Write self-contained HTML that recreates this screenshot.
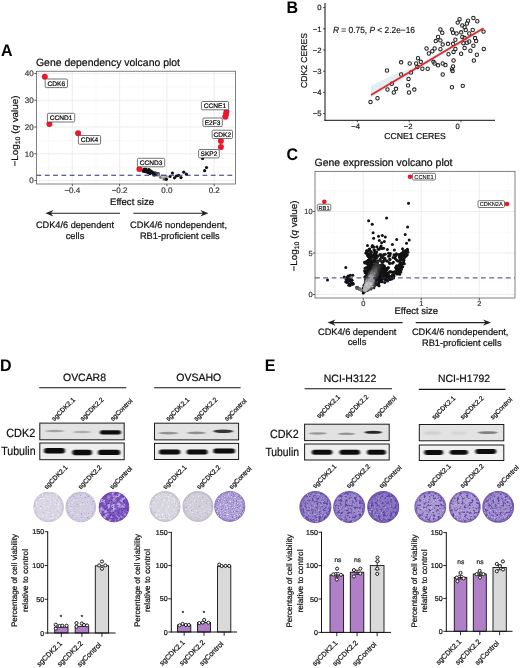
<!DOCTYPE html>
<html lang="en"><head><meta charset="utf-8"><title>Figure</title><style>html,body{margin:0;padding:0;background:#fff}body{width:520px;height:668px;overflow:hidden;font-family:"Liberation Sans",Arial,sans-serif}svg{display:block}</style></head><body>
<svg width="520" height="668" viewBox="0 0 520 668" font-family="Liberation Sans, Arial, Helvetica, sans-serif" text-rendering="geometricPrecision"><defs><filter id="b1" x="-20%" y="-100%" width="140%" height="300%"><feGaussianBlur stdDeviation="0.9 0.7"/></filter><filter id="b2" x="-20%" y="-100%" width="140%" height="300%"><feGaussianBlur stdDeviation="1.3 0.9"/></filter><clipPath id="c1"><rect x="39.8" y="423.1" width="84.4" height="16.7"/></clipPath><clipPath id="c2"><rect x="39.8" y="443" width="84.4" height="16.7"/></clipPath><radialGradient id="g3"><stop offset="0" stop-color="#d9d5e3"/><stop offset="0.8" stop-color="#d9d5e3"/><stop offset="1" stop-color="#c6c0d4"/></radialGradient><filter id="f4" x="0" y="0" width="100%" height="100%" color-interpolation-filters="sRGB"><feTurbulence type="fractalNoise" baseFrequency="0.5" numOctaves="2" seed="3"/><feColorMatrix type="matrix" values="0 0 0 0 0.96 0 0 0 0 0.96 0 0 0 0 0.98 3.2 0 0 0 -1.7"/><feComposite in2="SourceGraphic" operator="in"/></filter><filter id="f5" x="0" y="0" width="100%" height="100%" color-interpolation-filters="sRGB"><feTurbulence type="fractalNoise" baseFrequency="0.8" numOctaves="2" seed="14"/><feColorMatrix type="matrix" values="0 0 0 0 0.65 0 0 0 0 0.57 0 0 0 0 0.8 4 0 0 0 -2.7"/><feComposite in2="SourceGraphic" operator="in"/></filter><radialGradient id="g6"><stop offset="0" stop-color="#d3cde0"/><stop offset="0.8" stop-color="#d3cde0"/><stop offset="1" stop-color="#c2bbd2"/></radialGradient><filter id="f7" x="0" y="0" width="100%" height="100%" color-interpolation-filters="sRGB"><feTurbulence type="fractalNoise" baseFrequency="0.5" numOctaves="2" seed="5"/><feColorMatrix type="matrix" values="0 0 0 0 0.94 0 0 0 0 0.93 0 0 0 0 0.96 3.2 0 0 0 -1.8"/><feComposite in2="SourceGraphic" operator="in"/></filter><filter id="f8" x="0" y="0" width="100%" height="100%" color-interpolation-filters="sRGB"><feTurbulence type="fractalNoise" baseFrequency="0.8" numOctaves="2" seed="16"/><feColorMatrix type="matrix" values="0 0 0 0 0.59 0 0 0 0 0.49 0 0 0 0 0.78 4 0 0 0 -2.5"/><feComposite in2="SourceGraphic" operator="in"/></filter><radialGradient id="g9"><stop offset="0" stop-color="#7a52be"/><stop offset="0.8" stop-color="#7a52be"/><stop offset="1" stop-color="#6a42ae"/></radialGradient><filter id="f10" x="0" y="0" width="100%" height="100%" color-interpolation-filters="sRGB"><feTurbulence type="fractalNoise" baseFrequency="0.24" numOctaves="2" seed="9"/><feColorMatrix type="matrix" values="0 0 0 0 0.73 0 0 0 0 0.66 0 0 0 0 0.87 5 0 0 0 -2.25"/><feComposite in2="SourceGraphic" operator="in"/></filter><filter id="f11" x="0" y="0" width="100%" height="100%" color-interpolation-filters="sRGB"><feTurbulence type="fractalNoise" baseFrequency="0.6" numOctaves="2" seed="20"/><feColorMatrix type="matrix" values="0 0 0 0 0.35 0 0 0 0 0.2 0 0 0 0 0.65 4 0 0 0 -2.2"/><feComposite in2="SourceGraphic" operator="in"/></filter><clipPath id="c12"><rect x="154.5" y="423.2" width="84.1" height="16.7"/></clipPath><clipPath id="c13"><rect x="154.5" y="443.4" width="84.1" height="16.1"/></clipPath><radialGradient id="g14"><stop offset="0" stop-color="#d7d5de"/><stop offset="0.8" stop-color="#d7d5de"/><stop offset="1" stop-color="#bfbcc9"/></radialGradient><filter id="f15" x="0" y="0" width="100%" height="100%" color-interpolation-filters="sRGB"><feTurbulence type="fractalNoise" baseFrequency="0.5" numOctaves="2" seed="13"/><feColorMatrix type="matrix" values="0 0 0 0 0.96 0 0 0 0 0.95 0 0 0 0 0.97 3.2 0 0 0 -1.7"/><feComposite in2="SourceGraphic" operator="in"/></filter><filter id="f16" x="0" y="0" width="100%" height="100%" color-interpolation-filters="sRGB"><feTurbulence type="fractalNoise" baseFrequency="0.8" numOctaves="2" seed="24"/><feColorMatrix type="matrix" values="0 0 0 0 0.65 0 0 0 0 0.59 0 0 0 0 0.78 4 0 0 0 -2.75"/><feComposite in2="SourceGraphic" operator="in"/></filter><radialGradient id="g17"><stop offset="0" stop-color="#d1ceda"/><stop offset="0.8" stop-color="#d1ceda"/><stop offset="1" stop-color="#bbb7c7"/></radialGradient><filter id="f18" x="0" y="0" width="100%" height="100%" color-interpolation-filters="sRGB"><feTurbulence type="fractalNoise" baseFrequency="0.5" numOctaves="2" seed="15"/><feColorMatrix type="matrix" values="0 0 0 0 0.95 0 0 0 0 0.94 0 0 0 0 0.97 3.2 0 0 0 -1.8"/><feComposite in2="SourceGraphic" operator="in"/></filter><filter id="f19" x="0" y="0" width="100%" height="100%" color-interpolation-filters="sRGB"><feTurbulence type="fractalNoise" baseFrequency="0.8" numOctaves="2" seed="26"/><feColorMatrix type="matrix" values="0 0 0 0 0.61 0 0 0 0 0.53 0 0 0 0 0.78 4 0 0 0 -2.6"/><feComposite in2="SourceGraphic" operator="in"/></filter><radialGradient id="g20"><stop offset="0" stop-color="#ad9fd3"/><stop offset="0.8" stop-color="#ad9fd3"/><stop offset="1" stop-color="#856cbf"/></radialGradient><filter id="f21" x="0" y="0" width="100%" height="100%" color-interpolation-filters="sRGB"><feTurbulence type="fractalNoise" baseFrequency="0.7" numOctaves="2" seed="19"/><feColorMatrix type="matrix" values="0 0 0 0 0.87 0 0 0 0 0.85 0 0 0 0 0.93 4.5 0 0 0 -2.3"/><feComposite in2="SourceGraphic" operator="in"/></filter><filter id="f22" x="0" y="0" width="100%" height="100%" color-interpolation-filters="sRGB"><feTurbulence type="fractalNoise" baseFrequency="0.8" numOctaves="2" seed="30"/><feColorMatrix type="matrix" values="0 0 0 0 0.44 0 0 0 0 0.32 0 0 0 0 0.71 4 0 0 0 -2.35"/><feComposite in2="SourceGraphic" operator="in"/></filter><clipPath id="c23"><rect x="304.6" y="424.2" width="84.6" height="16.4"/></clipPath><clipPath id="c24"><rect x="304.6" y="444" width="84.6" height="16"/></clipPath><radialGradient id="g25"><stop offset="0" stop-color="#9282c6"/><stop offset="0.8" stop-color="#9282c6"/><stop offset="1" stop-color="#6e54b0"/></radialGradient><filter id="f26" x="0" y="0" width="100%" height="100%" color-interpolation-filters="sRGB"><feTurbulence type="fractalNoise" baseFrequency="0.7" numOctaves="2" seed="23"/><feColorMatrix type="matrix" values="0 0 0 0 0.75 0 0 0 0 0.71 0 0 0 0 0.87 4 0 0 0 -2.3"/><feComposite in2="SourceGraphic" operator="in"/></filter><filter id="f27" x="0" y="0" width="100%" height="100%" color-interpolation-filters="sRGB"><feTurbulence type="fractalNoise" baseFrequency="0.42" numOctaves="2" seed="34"/><feColorMatrix type="matrix" values="0 0 0 0 0.38 0 0 0 0 0.27 0 0 0 0 0.65 5 0 0 0 -2.5"/><feComposite in2="SourceGraphic" operator="in"/></filter><radialGradient id="g28"><stop offset="0" stop-color="#9686c8"/><stop offset="0.8" stop-color="#9686c8"/><stop offset="1" stop-color="#7258b2"/></radialGradient><filter id="f29" x="0" y="0" width="100%" height="100%" color-interpolation-filters="sRGB"><feTurbulence type="fractalNoise" baseFrequency="0.7" numOctaves="2" seed="25"/><feColorMatrix type="matrix" values="0 0 0 0 0.75 0 0 0 0 0.71 0 0 0 0 0.87 4 0 0 0 -2.3"/><feComposite in2="SourceGraphic" operator="in"/></filter><filter id="f30" x="0" y="0" width="100%" height="100%" color-interpolation-filters="sRGB"><feTurbulence type="fractalNoise" baseFrequency="0.42" numOctaves="2" seed="36"/><feColorMatrix type="matrix" values="0 0 0 0 0.38 0 0 0 0 0.27 0 0 0 0 0.65 5 0 0 0 -2.5"/><feComposite in2="SourceGraphic" operator="in"/></filter><radialGradient id="g31"><stop offset="0" stop-color="#8876c0"/><stop offset="0.8" stop-color="#8876c0"/><stop offset="1" stop-color="#664ca8"/></radialGradient><filter id="f32" x="0" y="0" width="100%" height="100%" color-interpolation-filters="sRGB"><feTurbulence type="fractalNoise" baseFrequency="0.7" numOctaves="2" seed="29"/><feColorMatrix type="matrix" values="0 0 0 0 0.75 0 0 0 0 0.71 0 0 0 0 0.87 4 0 0 0 -2.3"/><feComposite in2="SourceGraphic" operator="in"/></filter><filter id="f33" x="0" y="0" width="100%" height="100%" color-interpolation-filters="sRGB"><feTurbulence type="fractalNoise" baseFrequency="0.42" numOctaves="2" seed="40"/><feColorMatrix type="matrix" values="0 0 0 0 0.38 0 0 0 0 0.27 0 0 0 0 0.65 5 0 0 0 -2.5"/><feComposite in2="SourceGraphic" operator="in"/></filter><clipPath id="c34"><rect x="419.3" y="424.5" width="84.5" height="16.3"/></clipPath><clipPath id="c35"><rect x="419.3" y="445" width="84.5" height="15.5"/></clipPath><radialGradient id="g36"><stop offset="0" stop-color="#a898d0"/><stop offset="0.8" stop-color="#a898d0"/><stop offset="1" stop-color="#7456b0"/></radialGradient><filter id="f37" x="0" y="0" width="100%" height="100%" color-interpolation-filters="sRGB"><feTurbulence type="fractalNoise" baseFrequency="0.7" numOctaves="2" seed="33"/><feColorMatrix type="matrix" values="0 0 0 0 0.81 0 0 0 0 0.78 0 0 0 0 0.9 4 0 0 0 -2.3"/><feComposite in2="SourceGraphic" operator="in"/></filter><filter id="f38" x="0" y="0" width="100%" height="100%" color-interpolation-filters="sRGB"><feTurbulence type="fractalNoise" baseFrequency="0.42" numOctaves="2" seed="44"/><feColorMatrix type="matrix" values="0 0 0 0 0.39 0 0 0 0 0.27 0 0 0 0 0.66 5 0 0 0 -2.55"/><feComposite in2="SourceGraphic" operator="in"/></filter><radialGradient id="g39"><stop offset="0" stop-color="#aa9ad0"/><stop offset="0.8" stop-color="#aa9ad0"/><stop offset="1" stop-color="#7658b2"/></radialGradient><filter id="f40" x="0" y="0" width="100%" height="100%" color-interpolation-filters="sRGB"><feTurbulence type="fractalNoise" baseFrequency="0.7" numOctaves="2" seed="35"/><feColorMatrix type="matrix" values="0 0 0 0 0.81 0 0 0 0 0.78 0 0 0 0 0.9 4 0 0 0 -2.3"/><feComposite in2="SourceGraphic" operator="in"/></filter><filter id="f41" x="0" y="0" width="100%" height="100%" color-interpolation-filters="sRGB"><feTurbulence type="fractalNoise" baseFrequency="0.42" numOctaves="2" seed="46"/><feColorMatrix type="matrix" values="0 0 0 0 0.39 0 0 0 0 0.27 0 0 0 0 0.66 5 0 0 0 -2.55"/><feComposite in2="SourceGraphic" operator="in"/></filter><radialGradient id="g42"><stop offset="0" stop-color="#9c8aca"/><stop offset="0.8" stop-color="#9c8aca"/><stop offset="1" stop-color="#6a4eaa"/></radialGradient><filter id="f43" x="0" y="0" width="100%" height="100%" color-interpolation-filters="sRGB"><feTurbulence type="fractalNoise" baseFrequency="0.7" numOctaves="2" seed="39"/><feColorMatrix type="matrix" values="0 0 0 0 0.81 0 0 0 0 0.78 0 0 0 0 0.9 4 0 0 0 -2.3"/><feComposite in2="SourceGraphic" operator="in"/></filter><filter id="f44" x="0" y="0" width="100%" height="100%" color-interpolation-filters="sRGB"><feTurbulence type="fractalNoise" baseFrequency="0.42" numOctaves="2" seed="50"/><feColorMatrix type="matrix" values="0 0 0 0 0.39 0 0 0 0 0.27 0 0 0 0 0.66 5 0 0 0 -2.55"/><feComposite in2="SourceGraphic" operator="in"/></filter></defs><rect width="520" height="668" fill="#fff"/><text font-size="16" font-weight="bold" transform="translate(0.9 55.8) scale(1 1.05)">A</text>
<text x="36" y="66.4" font-size="10.5" fill="#111" textLength="144" lengthAdjust="spacingAndGlyphs" stroke="#111" stroke-width="0.22">Gene dependency volcano plot</text>
<rect x="36.5" y="71.2" width="199" height="112.8" fill="#fff"/>
<line x1="48.65" y1="71.2" x2="48.65" y2="184" stroke="#f3f3f3" stroke-width="0.5"/>
<line x1="95.95" y1="71.2" x2="95.95" y2="184" stroke="#f3f3f3" stroke-width="0.5"/>
<line x1="143.25" y1="71.2" x2="143.25" y2="184" stroke="#f3f3f3" stroke-width="0.5"/>
<line x1="190.55" y1="71.2" x2="190.55" y2="184" stroke="#f3f3f3" stroke-width="0.5"/>
<line x1="36.5" y1="167.12" x2="235.5" y2="167.12" stroke="#f3f3f3" stroke-width="0.5"/>
<line x1="36.5" y1="140.38" x2="235.5" y2="140.38" stroke="#f3f3f3" stroke-width="0.5"/>
<line x1="36.5" y1="113.62" x2="235.5" y2="113.62" stroke="#f3f3f3" stroke-width="0.5"/>
<line x1="36.5" y1="86.88" x2="235.5" y2="86.88" stroke="#f3f3f3" stroke-width="0.5"/>
<line x1="72.3" y1="71.2" x2="72.3" y2="184" stroke="#ebebeb" stroke-width="0.9"/>
<line x1="119.6" y1="71.2" x2="119.6" y2="184" stroke="#ebebeb" stroke-width="0.9"/>
<line x1="166.9" y1="71.2" x2="166.9" y2="184" stroke="#ebebeb" stroke-width="0.9"/>
<line x1="214.2" y1="71.2" x2="214.2" y2="184" stroke="#ebebeb" stroke-width="0.9"/>
<line x1="36.5" y1="180.5" x2="235.5" y2="180.5" stroke="#ebebeb" stroke-width="0.9"/>
<line x1="36.5" y1="153.75" x2="235.5" y2="153.75" stroke="#ebebeb" stroke-width="0.9"/>
<line x1="36.5" y1="127" x2="235.5" y2="127" stroke="#ebebeb" stroke-width="0.9"/>
<line x1="36.5" y1="100.25" x2="235.5" y2="100.25" stroke="#ebebeb" stroke-width="0.9"/>
<line x1="36.5" y1="73.5" x2="235.5" y2="73.5" stroke="#ebebeb" stroke-width="0.9"/>
<circle cx="153.82" cy="174.93" r="1.6" fill="#2d2d2d"/>
<circle cx="155.14" cy="172.9" r="1.6" fill="#3e3e3e"/>
<circle cx="158.38" cy="173.64" r="1.6" fill="#565656"/>
<circle cx="146.28" cy="171.04" r="1.6" fill="#111111"/>
<circle cx="145.6" cy="171.54" r="1.6" fill="#111111"/>
<circle cx="158.49" cy="174.06" r="1.6" fill="#4b4b4b"/>
<circle cx="154.33" cy="173.09" r="1.6" fill="#3b3b3b"/>
<circle cx="144.09" cy="169.66" r="1.6" fill="#111111"/>
<circle cx="162.5" cy="177.32" r="1.6" fill="#9d9d9d"/>
<circle cx="158.3" cy="174.54" r="1.6" fill="#878787"/>
<circle cx="166.72" cy="178.87" r="1.6" fill="#8d8d8d"/>
<circle cx="148.16" cy="170.11" r="1.6" fill="#111111"/>
<circle cx="160.5" cy="177.37" r="1.6" fill="#7e7e7e"/>
<circle cx="165.89" cy="176.14" r="1.6" fill="#838383"/>
<circle cx="163.91" cy="179.06" r="1.6" fill="#959595"/>
<circle cx="145.45" cy="171.18" r="1.6" fill="#111111"/>
<circle cx="148.58" cy="171.35" r="1.6" fill="#111111"/>
<circle cx="165.81" cy="176.59" r="1.6" fill="#878787"/>
<circle cx="144.72" cy="171.48" r="1.6" fill="#111111"/>
<circle cx="147.64" cy="170.95" r="1.6" fill="#111111"/>
<circle cx="148.35" cy="169.99" r="1.6" fill="#111111"/>
<circle cx="157.06" cy="174.87" r="1.6" fill="#545454"/>
<circle cx="150.7" cy="172.95" r="1.6" fill="#111111"/>
<circle cx="151.27" cy="171.23" r="1.6" fill="#111111"/>
<circle cx="153.22" cy="173.47" r="1.6" fill="#1a1a1a"/>
<circle cx="165.07" cy="177.29" r="1.6" fill="#b9b9b9"/>
<circle cx="150.41" cy="170.98" r="1.6" fill="#111111"/>
<circle cx="145.73" cy="169.5" r="1.6" fill="#111111"/>
<circle cx="156.72" cy="174.61" r="1.6" fill="#6e6e6e"/>
<circle cx="154.56" cy="175.01" r="1.6" fill="#2f2f2f"/>
<circle cx="147.95" cy="172.01" r="1.6" fill="#111111"/>
<circle cx="148.37" cy="172.56" r="1.6" fill="#111111"/>
<circle cx="163.93" cy="179.22" r="1.6" fill="#c3c3c3"/>
<circle cx="156.89" cy="173.44" r="1.6" fill="#434343"/>
<circle cx="164.53" cy="178.57" r="1.6" fill="#888888"/>
<circle cx="162.27" cy="175.98" r="1.6" fill="#7a7a7a"/>
<circle cx="158.67" cy="174.87" r="1.6" fill="#7e7e7e"/>
<circle cx="162.95" cy="176.18" r="1.6" fill="#c7c7c7"/>
<circle cx="146.93" cy="170.57" r="1.6" fill="#111111"/>
<circle cx="152.47" cy="172.33" r="1.6" fill="#292929"/>
<circle cx="155.49" cy="174.05" r="1.6" fill="#606060"/>
<circle cx="165.94" cy="178.68" r="1.6" fill="#a7a7a7"/>
<circle cx="145.54" cy="169.17" r="1.6" fill="#111111"/>
<circle cx="164.46" cy="179" r="1.6" fill="#727272"/>
<circle cx="202.6" cy="158.5" r="1.6" fill="#111"/>
<circle cx="206.5" cy="167.5" r="1.6" fill="#111"/>
<circle cx="204.6" cy="170.7" r="1.6" fill="#111"/>
<circle cx="166.3" cy="179.3" r="1.6" fill="#111"/>
<circle cx="172.4" cy="173" r="1.6" fill="#111"/>
<circle cx="183.8" cy="172.2" r="1.6" fill="#111"/>
<circle cx="186.5" cy="174.2" r="1.6" fill="#111"/>
<circle cx="181" cy="177.6" r="1.6" fill="#111"/>
<circle cx="176.4" cy="176" r="1.6" fill="#111"/>
<circle cx="170" cy="176.5" r="1.6" fill="#111"/>
<circle cx="174.5" cy="177.8" r="1.6" fill="#111"/>
<circle cx="178.5" cy="175.3" r="1.6" fill="#111"/>
<circle cx="144" cy="169.3" r="1.6" fill="#111"/>
<circle cx="146.5" cy="170.4" r="1.6" fill="#111"/>
<circle cx="149" cy="169.6" r="1.6" fill="#111"/>
<circle cx="151" cy="171.3" r="1.6" fill="#111"/>
<circle cx="147.5" cy="172.3" r="1.6" fill="#111"/>
<circle cx="153" cy="172.8" r="1.6" fill="#111"/>
<circle cx="150" cy="173.6" r="1.6" fill="#111"/>
<circle cx="155" cy="174.6" r="1.6" fill="#111"/>
<circle cx="143.2" cy="171.2" r="1.6" fill="#111"/>
<line x1="36.5" y1="175.15" x2="235.5" y2="175.15" stroke="#27307f" stroke-width="1.05" stroke-dasharray="4.8 3.5"/>
<circle cx="44.8" cy="76.7" r="3" fill="#e8192c"/>
<circle cx="49.4" cy="124.1" r="3" fill="#e8192c"/>
<circle cx="78.1" cy="133.3" r="3" fill="#e8192c"/>
<circle cx="226.5" cy="111.8" r="3" fill="#e8192c"/>
<circle cx="226" cy="114.2" r="3" fill="#e8192c"/>
<circle cx="225.3" cy="116.8" r="3" fill="#e8192c"/>
<circle cx="220.9" cy="140.9" r="3" fill="#e8192c"/>
<circle cx="220.9" cy="147.1" r="3" fill="#e8192c"/>
<circle cx="139.4" cy="169.1" r="3" fill="#e8192c"/>
<rect x="36.5" y="71.2" width="199" height="112.8" fill="none" stroke="#4a4a4a" stroke-width="0.7"/>
<rect x="45.2" y="79" width="22.3" height="8.6" fill="#fff" stroke="#3a3a3a" stroke-width="0.7" rx="1.2"/>
<text x="56.35" y="85.68" font-size="6.6" text-anchor="middle" stroke="#000" stroke-width="0.2">CDK6</text>
<rect x="47.4" y="113.3" width="27.3" height="8.7" fill="#fff" stroke="#3a3a3a" stroke-width="0.7" rx="1.2"/>
<text x="61.05" y="120.03" font-size="6.6" text-anchor="middle" stroke="#000" stroke-width="0.2">CCND1</text>
<rect x="78.4" y="135.5" width="22.2" height="8.7" fill="#fff" stroke="#3a3a3a" stroke-width="0.7" rx="1.2"/>
<text x="89.5" y="142.23" font-size="6.6" text-anchor="middle" stroke="#000" stroke-width="0.2">CDK4</text>
<rect x="201.4" y="101.5" width="27.2" height="8.3" fill="#fff" stroke="#3a3a3a" stroke-width="0.7" rx="1.2"/>
<text x="215" y="108.03" font-size="6.6" text-anchor="middle" stroke="#000" stroke-width="0.2">CCNE1</text>
<rect x="202.9" y="118" width="19.4" height="8.4" fill="#fff" stroke="#3a3a3a" stroke-width="0.7" rx="1.2"/>
<text x="212.6" y="124.58" font-size="6.6" text-anchor="middle" stroke="#000" stroke-width="0.2">E2F3</text>
<rect x="212.2" y="130.2" width="20.3" height="8.3" fill="#fff" stroke="#3a3a3a" stroke-width="0.7" rx="1.2"/>
<text x="222.35" y="136.73" font-size="6.6" text-anchor="middle" stroke="#000" stroke-width="0.2">CDK2</text>
<rect x="198.6" y="149.5" width="20.7" height="8.4" fill="#fff" stroke="#3a3a3a" stroke-width="0.7" rx="1.2"/>
<text x="208.95" y="156.08" font-size="6.6" text-anchor="middle" stroke="#000" stroke-width="0.2">SKP2</text>
<rect x="137.4" y="158.3" width="27.3" height="8.5" fill="#fff" stroke="#3a3a3a" stroke-width="0.7" rx="1.2"/>
<text x="151.05" y="164.93" font-size="6.6" text-anchor="middle" stroke="#000" stroke-width="0.2">CCND3</text>
<line x1="34.3" y1="180.5" x2="36.5" y2="180.5" stroke="#333" stroke-width="0.8"/>
<text x="33.6" y="183.4" font-size="8" text-anchor="end" fill="#3a3a3a" stroke="#3a3a3a" stroke-width="0.22">0</text>
<line x1="34.3" y1="153.75" x2="36.5" y2="153.75" stroke="#333" stroke-width="0.8"/>
<text x="33.6" y="156.65" font-size="8" text-anchor="end" fill="#3a3a3a" stroke="#3a3a3a" stroke-width="0.22">10</text>
<line x1="34.3" y1="127" x2="36.5" y2="127" stroke="#333" stroke-width="0.8"/>
<text x="33.6" y="129.9" font-size="8" text-anchor="end" fill="#3a3a3a" stroke="#3a3a3a" stroke-width="0.22">20</text>
<line x1="34.3" y1="100.25" x2="36.5" y2="100.25" stroke="#333" stroke-width="0.8"/>
<text x="33.6" y="103.15" font-size="8" text-anchor="end" fill="#3a3a3a" stroke="#3a3a3a" stroke-width="0.22">30</text>
<line x1="34.3" y1="73.5" x2="36.5" y2="73.5" stroke="#333" stroke-width="0.8"/>
<text x="33.6" y="76.4" font-size="8" text-anchor="end" fill="#3a3a3a" stroke="#3a3a3a" stroke-width="0.22">40</text>
<line x1="72.3" y1="184" x2="72.3" y2="186.2" stroke="#333" stroke-width="0.8"/>
<text x="72.3" y="192.9" font-size="8" text-anchor="middle" fill="#3a3a3a" stroke="#3a3a3a" stroke-width="0.22">−0.4</text>
<line x1="119.6" y1="184" x2="119.6" y2="186.2" stroke="#333" stroke-width="0.8"/>
<text x="119.6" y="192.9" font-size="8" text-anchor="middle" fill="#3a3a3a" stroke="#3a3a3a" stroke-width="0.22">−0.2</text>
<line x1="166.9" y1="184" x2="166.9" y2="186.2" stroke="#333" stroke-width="0.8"/>
<text x="166.9" y="192.9" font-size="8" text-anchor="middle" fill="#3a3a3a" stroke="#3a3a3a" stroke-width="0.22">0.0</text>
<line x1="214.2" y1="184" x2="214.2" y2="186.2" stroke="#333" stroke-width="0.8"/>
<text x="214.2" y="192.9" font-size="8" text-anchor="middle" fill="#3a3a3a" stroke="#3a3a3a" stroke-width="0.22">0.2</text>
<text x="132" y="205.2" font-size="9.5" text-anchor="middle" fill="#111" textLength="44" lengthAdjust="spacingAndGlyphs" stroke="#111" stroke-width="0.22">Effect size</text>
<text x="18" y="131" font-size="9.4" text-anchor="middle" fill="#111" stroke="#111" stroke-width="0.2" transform="rotate(-90 18 131)" textLength="71" lengthAdjust="spacingAndGlyphs">−Log<tspan font-size="6.58" dy="1.6">10</tspan><tspan dy="-1.6"> (</tspan><tspan font-style="italic">q</tspan> value)</text>
<line x1="120" y1="213.2" x2="48.4" y2="213.2" stroke="#222" stroke-width="1.1"/>
<path d="M45.4 213.2 L53.4 210 L50.9 213.2 L53.4 216.4 Z" fill="#222"/>
<line x1="133.4" y1="213.2" x2="205.4" y2="213.2" stroke="#222" stroke-width="1.1"/>
<path d="M208.4 213.2 L200.4 210 L202.9 213.2 L200.4 216.4 Z" fill="#222"/>
<text x="75" y="228.3" font-size="9.3" text-anchor="middle" fill="#111" textLength="78" lengthAdjust="spacingAndGlyphs" stroke="#111" stroke-width="0.22">CDK4/6 dependent</text>
<text x="75" y="238.6" font-size="9.3" text-anchor="middle" fill="#111" stroke="#111" stroke-width="0.22">cells</text>
<text x="178.5" y="228.3" font-size="9.3" text-anchor="middle" fill="#111" textLength="97" lengthAdjust="spacingAndGlyphs" stroke="#111" stroke-width="0.22">CDK4/6 nondependent,</text>
<text x="179.8" y="238.6" font-size="9.3" text-anchor="middle" fill="#111" textLength="79.7" lengthAdjust="spacingAndGlyphs" stroke="#111" stroke-width="0.22">RB1-proficient cells</text>
<text font-size="16" font-weight="bold" transform="translate(286.5 13.2) scale(1 1.05)">B</text>
<path d="M371 85.4 L391 76.2 L411 68.3 L440 52.5 L483.5 26.5 L483.5 30 L440 56 L411 74.5 L391 86 L371 97.5 Z" fill="#d8e5f0" opacity="0.7"/>
<circle cx="370.5" cy="102" r="1.7" fill="#e6e6e6" stroke="#222" stroke-width="1.05" fill-opacity="0.35"/>
<circle cx="377.5" cy="98.2" r="1.7" fill="#e6e6e6" stroke="#222" stroke-width="1.05" fill-opacity="0.35"/>
<circle cx="387.5" cy="89.5" r="1.7" fill="#e6e6e6" stroke="#222" stroke-width="1.05" fill-opacity="0.35"/>
<circle cx="387" cy="70.5" r="1.7" fill="#e6e6e6" stroke="#222" stroke-width="1.05" fill-opacity="0.35"/>
<circle cx="391.8" cy="83.8" r="1.7" fill="#e6e6e6" stroke="#222" stroke-width="1.05" fill-opacity="0.35"/>
<circle cx="393.8" cy="92.5" r="1.7" fill="#e6e6e6" stroke="#222" stroke-width="1.05" fill-opacity="0.35"/>
<circle cx="396" cy="88.8" r="1.7" fill="#e6e6e6" stroke="#222" stroke-width="1.05" fill-opacity="0.35"/>
<circle cx="409" cy="92.5" r="1.7" fill="#e6e6e6" stroke="#222" stroke-width="1.05" fill-opacity="0.35"/>
<circle cx="411" cy="72.5" r="1.7" fill="#e6e6e6" stroke="#222" stroke-width="1.05" fill-opacity="0.35"/>
<circle cx="459.54" cy="19.16" r="1.7" fill="#e6e6e6" stroke="#222" stroke-width="1.05" fill-opacity="0.35"/>
<circle cx="473.39" cy="18" r="1.7" fill="#e6e6e6" stroke="#222" stroke-width="1.05" fill-opacity="0.35"/>
<circle cx="477.31" cy="21.23" r="1.7" fill="#e6e6e6" stroke="#222" stroke-width="1.05" fill-opacity="0.35"/>
<circle cx="468.08" cy="20.77" r="1.7" fill="#e6e6e6" stroke="#222" stroke-width="1.05" fill-opacity="0.35"/>
<circle cx="457.7" cy="22.62" r="1.7" fill="#e6e6e6" stroke="#222" stroke-width="1.05" fill-opacity="0.35"/>
<circle cx="466.93" cy="23.54" r="1.7" fill="#e6e6e6" stroke="#222" stroke-width="1.05" fill-opacity="0.35"/>
<circle cx="462.31" cy="25.39" r="1.7" fill="#e6e6e6" stroke="#222" stroke-width="1.05" fill-opacity="0.35"/>
<circle cx="464.62" cy="27.23" r="1.7" fill="#e6e6e6" stroke="#222" stroke-width="1.05" fill-opacity="0.35"/>
<circle cx="465.77" cy="30" r="1.7" fill="#e6e6e6" stroke="#222" stroke-width="1.05" fill-opacity="0.35"/>
<circle cx="440.39" cy="29.54" r="1.7" fill="#e6e6e6" stroke="#222" stroke-width="1.05" fill-opacity="0.35"/>
<circle cx="451.93" cy="29.54" r="1.7" fill="#e6e6e6" stroke="#222" stroke-width="1.05" fill-opacity="0.35"/>
<circle cx="442.23" cy="32.77" r="1.7" fill="#e6e6e6" stroke="#222" stroke-width="1.05" fill-opacity="0.35"/>
<circle cx="453.08" cy="32.77" r="1.7" fill="#e6e6e6" stroke="#222" stroke-width="1.05" fill-opacity="0.35"/>
<circle cx="456.54" cy="33.46" r="1.7" fill="#e6e6e6" stroke="#222" stroke-width="1.05" fill-opacity="0.35"/>
<circle cx="461.16" cy="32.31" r="1.7" fill="#e6e6e6" stroke="#222" stroke-width="1.05" fill-opacity="0.35"/>
<circle cx="472.7" cy="30" r="1.7" fill="#e6e6e6" stroke="#222" stroke-width="1.05" fill-opacity="0.35"/>
<circle cx="469.24" cy="33.46" r="1.7" fill="#e6e6e6" stroke="#222" stroke-width="1.05" fill-opacity="0.35"/>
<circle cx="438.08" cy="36.93" r="1.7" fill="#e6e6e6" stroke="#222" stroke-width="1.05" fill-opacity="0.35"/>
<circle cx="435.77" cy="41.08" r="1.7" fill="#e6e6e6" stroke="#222" stroke-width="1.05" fill-opacity="0.35"/>
<circle cx="440.39" cy="40.39" r="1.7" fill="#e6e6e6" stroke="#222" stroke-width="1.05" fill-opacity="0.35"/>
<circle cx="462.31" cy="36.93" r="1.7" fill="#e6e6e6" stroke="#222" stroke-width="1.05" fill-opacity="0.35"/>
<circle cx="464.62" cy="38.08" r="1.7" fill="#e6e6e6" stroke="#222" stroke-width="1.05" fill-opacity="0.35"/>
<circle cx="455.39" cy="39.7" r="1.7" fill="#e6e6e6" stroke="#222" stroke-width="1.05" fill-opacity="0.35"/>
<circle cx="475.01" cy="38.08" r="1.7" fill="#e6e6e6" stroke="#222" stroke-width="1.05" fill-opacity="0.35"/>
<circle cx="476.16" cy="41.08" r="1.7" fill="#e6e6e6" stroke="#222" stroke-width="1.05" fill-opacity="0.35"/>
<circle cx="483.54" cy="31.62" r="1.7" fill="#e6e6e6" stroke="#222" stroke-width="1.05" fill-opacity="0.35"/>
<circle cx="442.7" cy="44.54" r="1.7" fill="#e6e6e6" stroke="#222" stroke-width="1.05" fill-opacity="0.35"/>
<circle cx="448" cy="43.85" r="1.7" fill="#e6e6e6" stroke="#222" stroke-width="1.05" fill-opacity="0.35"/>
<circle cx="453.08" cy="43.85" r="1.7" fill="#e6e6e6" stroke="#222" stroke-width="1.05" fill-opacity="0.35"/>
<circle cx="463.47" cy="43.16" r="1.7" fill="#e6e6e6" stroke="#222" stroke-width="1.05" fill-opacity="0.35"/>
<circle cx="466.93" cy="42.7" r="1.7" fill="#e6e6e6" stroke="#222" stroke-width="1.05" fill-opacity="0.35"/>
<circle cx="469.24" cy="41.54" r="1.7" fill="#e6e6e6" stroke="#222" stroke-width="1.05" fill-opacity="0.35"/>
<circle cx="426.54" cy="48.47" r="1.7" fill="#e6e6e6" stroke="#222" stroke-width="1.05" fill-opacity="0.35"/>
<circle cx="434.62" cy="48.47" r="1.7" fill="#e6e6e6" stroke="#222" stroke-width="1.05" fill-opacity="0.35"/>
<circle cx="440.39" cy="49.16" r="1.7" fill="#e6e6e6" stroke="#222" stroke-width="1.05" fill-opacity="0.35"/>
<circle cx="455.39" cy="48.93" r="1.7" fill="#e6e6e6" stroke="#222" stroke-width="1.05" fill-opacity="0.35"/>
<circle cx="464.62" cy="48" r="1.7" fill="#e6e6e6" stroke="#222" stroke-width="1.05" fill-opacity="0.35"/>
<circle cx="473.39" cy="45.7" r="1.7" fill="#e6e6e6" stroke="#222" stroke-width="1.05" fill-opacity="0.35"/>
<circle cx="483.78" cy="48.93" r="1.7" fill="#e6e6e6" stroke="#222" stroke-width="1.05" fill-opacity="0.35"/>
<circle cx="428.85" cy="53.54" r="1.7" fill="#e6e6e6" stroke="#222" stroke-width="1.05" fill-opacity="0.35"/>
<circle cx="432.31" cy="51.23" r="1.7" fill="#e6e6e6" stroke="#222" stroke-width="1.05" fill-opacity="0.35"/>
<circle cx="448.47" cy="54.23" r="1.7" fill="#e6e6e6" stroke="#222" stroke-width="1.05" fill-opacity="0.35"/>
<circle cx="453.54" cy="51.93" r="1.7" fill="#e6e6e6" stroke="#222" stroke-width="1.05" fill-opacity="0.35"/>
<circle cx="461.16" cy="53.77" r="1.7" fill="#e6e6e6" stroke="#222" stroke-width="1.05" fill-opacity="0.35"/>
<circle cx="470.39" cy="50.77" r="1.7" fill="#e6e6e6" stroke="#222" stroke-width="1.05" fill-opacity="0.35"/>
<circle cx="476.85" cy="54.7" r="1.7" fill="#e6e6e6" stroke="#222" stroke-width="1.05" fill-opacity="0.35"/>
<circle cx="418" cy="58.16" r="1.7" fill="#e6e6e6" stroke="#222" stroke-width="1.05" fill-opacity="0.35"/>
<circle cx="401.15" cy="62.31" r="1.7" fill="#e6e6e6" stroke="#222" stroke-width="1.05" fill-opacity="0.35"/>
<circle cx="409.69" cy="63.47" r="1.7" fill="#e6e6e6" stroke="#222" stroke-width="1.05" fill-opacity="0.35"/>
<circle cx="416.16" cy="63.47" r="1.7" fill="#e6e6e6" stroke="#222" stroke-width="1.05" fill-opacity="0.35"/>
<circle cx="420.77" cy="61.85" r="1.7" fill="#e6e6e6" stroke="#222" stroke-width="1.05" fill-opacity="0.35"/>
<circle cx="433.46" cy="61.85" r="1.7" fill="#e6e6e6" stroke="#222" stroke-width="1.05" fill-opacity="0.35"/>
<circle cx="434.62" cy="63.47" r="1.7" fill="#e6e6e6" stroke="#222" stroke-width="1.05" fill-opacity="0.35"/>
<circle cx="438.08" cy="65.31" r="1.7" fill="#e6e6e6" stroke="#222" stroke-width="1.05" fill-opacity="0.35"/>
<circle cx="442.7" cy="63.47" r="1.7" fill="#e6e6e6" stroke="#222" stroke-width="1.05" fill-opacity="0.35"/>
<circle cx="445.47" cy="65.08" r="1.7" fill="#e6e6e6" stroke="#222" stroke-width="1.05" fill-opacity="0.35"/>
<circle cx="453.54" cy="60.47" r="1.7" fill="#e6e6e6" stroke="#222" stroke-width="1.05" fill-opacity="0.35"/>
<circle cx="473.85" cy="60.47" r="1.7" fill="#e6e6e6" stroke="#222" stroke-width="1.05" fill-opacity="0.35"/>
<circle cx="417.31" cy="66.93" r="1.7" fill="#e6e6e6" stroke="#222" stroke-width="1.05" fill-opacity="0.35"/>
<circle cx="422.39" cy="68.77" r="1.7" fill="#e6e6e6" stroke="#222" stroke-width="1.05" fill-opacity="0.35"/>
<circle cx="427.69" cy="68.77" r="1.7" fill="#e6e6e6" stroke="#222" stroke-width="1.05" fill-opacity="0.35"/>
<circle cx="453.08" cy="66.47" r="1.7" fill="#e6e6e6" stroke="#222" stroke-width="1.05" fill-opacity="0.35"/>
<circle cx="451.93" cy="69.24" r="1.7" fill="#e6e6e6" stroke="#222" stroke-width="1.05" fill-opacity="0.35"/>
<circle cx="452.62" cy="71.08" r="1.7" fill="#e6e6e6" stroke="#222" stroke-width="1.05" fill-opacity="0.35"/>
<circle cx="442.7" cy="74.54" r="1.7" fill="#e6e6e6" stroke="#222" stroke-width="1.05" fill-opacity="0.35"/>
<circle cx="408.54" cy="78.93" r="1.7" fill="#e6e6e6" stroke="#222" stroke-width="1.05" fill-opacity="0.35"/>
<circle cx="408.08" cy="85.39" r="1.7" fill="#e6e6e6" stroke="#222" stroke-width="1.05" fill-opacity="0.35"/>
<circle cx="414.31" cy="89.55" r="1.7" fill="#e6e6e6" stroke="#222" stroke-width="1.05" fill-opacity="0.35"/>
<circle cx="451.93" cy="87.24" r="1.7" fill="#e6e6e6" stroke="#222" stroke-width="1.05" fill-opacity="0.35"/>
<circle cx="462.77" cy="85.85" r="1.7" fill="#e6e6e6" stroke="#222" stroke-width="1.05" fill-opacity="0.35"/>
<circle cx="401.15" cy="74.54" r="1.7" fill="#e6e6e6" stroke="#222" stroke-width="1.05" fill-opacity="0.35"/>
<line x1="371" y1="95" x2="483.5" y2="28.2" stroke="#dd2a2a" stroke-width="1.9"/>
<line x1="325" y1="3" x2="325" y2="120.8" stroke="#111" stroke-width="1"/>
<line x1="324.5" y1="120.3" x2="495" y2="120.3" stroke="#111" stroke-width="1"/>
<line x1="323" y1="7.6" x2="325" y2="7.6" stroke="#111" stroke-width="0.7"/>
<text x="321.6" y="10.35" font-size="7.7" text-anchor="end" fill="#222" stroke="#222" stroke-width="0.22">0</text>
<line x1="323" y1="28.8" x2="325" y2="28.8" stroke="#111" stroke-width="0.7"/>
<text x="321.6" y="31.55" font-size="7.7" text-anchor="end" fill="#222" stroke="#222" stroke-width="0.22">−1</text>
<line x1="323" y1="50" x2="325" y2="50" stroke="#111" stroke-width="0.7"/>
<text x="321.6" y="52.75" font-size="7.7" text-anchor="end" fill="#222" stroke="#222" stroke-width="0.22">−2</text>
<line x1="323" y1="71.2" x2="325" y2="71.2" stroke="#111" stroke-width="0.7"/>
<text x="321.6" y="73.95" font-size="7.7" text-anchor="end" fill="#222" stroke="#222" stroke-width="0.22">−3</text>
<line x1="323" y1="92.4" x2="325" y2="92.4" stroke="#111" stroke-width="0.7"/>
<text x="321.6" y="95.15" font-size="7.7" text-anchor="end" fill="#222" stroke="#222" stroke-width="0.22">−4</text>
<line x1="323" y1="113.6" x2="325" y2="113.6" stroke="#111" stroke-width="0.7"/>
<text x="321.6" y="116.35" font-size="7.7" text-anchor="end" fill="#222" stroke="#222" stroke-width="0.22">−5</text>
<line x1="357.4" y1="120.3" x2="357.4" y2="122.3" stroke="#111" stroke-width="0.7"/>
<text x="355.6" y="128.8" font-size="7.7" text-anchor="middle" fill="#222" stroke="#222" stroke-width="0.22">−4</text>
<line x1="409.2" y1="120.3" x2="409.2" y2="122.3" stroke="#111" stroke-width="0.7"/>
<text x="408.2" y="128.8" font-size="7.7" text-anchor="middle" fill="#222" stroke="#222" stroke-width="0.22">−2</text>
<line x1="461" y1="120.3" x2="461" y2="122.3" stroke="#111" stroke-width="0.7"/>
<text x="457.7" y="128.8" font-size="7.7" text-anchor="middle" fill="#222" stroke="#222" stroke-width="0.22">0</text>
<text x="415" y="139.1" font-size="8.6" text-anchor="middle" fill="#111" textLength="61.3" lengthAdjust="spacingAndGlyphs" stroke="#111" stroke-width="0.22">CCNE1 CERES</text>
<text x="306.8" y="60.5" font-size="8.6" text-anchor="middle" fill="#111" transform="rotate(-90 306.8 60.5)" textLength="55" lengthAdjust="spacingAndGlyphs" stroke="#111" stroke-width="0.22">CDK2 CERES</text>
<text x="333" y="32.6" font-size="8.9" fill="#111" stroke="#111" stroke-width="0.15" textLength="82" lengthAdjust="spacingAndGlyphs"><tspan font-style="italic">R</tspan> = 0.75, <tspan font-style="italic">P</tspan> &lt; 2.2e−16</text>
<text font-size="16" font-weight="bold" transform="translate(286.5 159.7) scale(1 1.05)">C</text>
<text x="314.5" y="166.2" font-size="10.5" fill="#111" textLength="138" lengthAdjust="spacingAndGlyphs" stroke="#111" stroke-width="0.22">Gene expression volcano plot</text>
<rect x="315" y="171.3" width="200" height="126.7" fill="#fff"/>
<line x1="334.25" y1="171.3" x2="334.25" y2="298" stroke="#f3f3f3" stroke-width="0.5"/>
<line x1="392.25" y1="171.3" x2="392.25" y2="298" stroke="#f3f3f3" stroke-width="0.5"/>
<line x1="450.25" y1="171.3" x2="450.25" y2="298" stroke="#f3f3f3" stroke-width="0.5"/>
<line x1="508.25" y1="171.3" x2="508.25" y2="298" stroke="#f3f3f3" stroke-width="0.5"/>
<line x1="315" y1="273.75" x2="515" y2="273.75" stroke="#f3f3f3" stroke-width="0.5"/>
<line x1="315" y1="232.25" x2="515" y2="232.25" stroke="#f3f3f3" stroke-width="0.5"/>
<line x1="315" y1="190.75" x2="515" y2="190.75" stroke="#f3f3f3" stroke-width="0.5"/>
<line x1="363.25" y1="171.3" x2="363.25" y2="298" stroke="#ebebeb" stroke-width="0.9"/>
<line x1="421.25" y1="171.3" x2="421.25" y2="298" stroke="#ebebeb" stroke-width="0.9"/>
<line x1="479.25" y1="171.3" x2="479.25" y2="298" stroke="#ebebeb" stroke-width="0.9"/>
<line x1="315" y1="294.5" x2="515" y2="294.5" stroke="#ebebeb" stroke-width="0.9"/>
<line x1="315" y1="253" x2="515" y2="253" stroke="#ebebeb" stroke-width="0.9"/>
<line x1="315" y1="211.5" x2="515" y2="211.5" stroke="#ebebeb" stroke-width="0.9"/>
<circle cx="372.74" cy="257.17" r="1.5" fill="#121212"/>
<circle cx="370.9" cy="254.98" r="1.5" fill="#121212"/>
<circle cx="379.88" cy="275.06" r="1.5" fill="#121212"/>
<circle cx="363.39" cy="291.13" r="1.5" fill="#121212"/>
<circle cx="388.58" cy="256.21" r="1.5" fill="#121212"/>
<circle cx="366.5" cy="250.78" r="1.5" fill="#121212"/>
<circle cx="393.41" cy="262.13" r="1.5" fill="#121212"/>
<circle cx="403.75" cy="253.55" r="1.5" fill="#121212"/>
<circle cx="384.39" cy="271.4" r="1.5" fill="#121212"/>
<circle cx="373.99" cy="249.82" r="1.5" fill="#121212"/>
<circle cx="388.81" cy="276.39" r="1.5" fill="#121212"/>
<circle cx="364.38" cy="291.59" r="1.5" fill="#121212"/>
<circle cx="400.96" cy="262.81" r="1.5" fill="#121212"/>
<circle cx="406.32" cy="251.84" r="1.5" fill="#121212"/>
<circle cx="389.65" cy="276.46" r="1.5" fill="#121212"/>
<circle cx="396.07" cy="272.74" r="1.5" fill="#121212"/>
<circle cx="382.47" cy="269.4" r="1.5" fill="#121212"/>
<circle cx="387.2" cy="277.3" r="1.5" fill="#121212"/>
<circle cx="390.69" cy="278.54" r="1.5" fill="#121212"/>
<circle cx="367.75" cy="264.14" r="1.5" fill="#121212"/>
<circle cx="387.29" cy="268.2" r="1.5" fill="#121212"/>
<circle cx="383.88" cy="271.02" r="1.5" fill="#121212"/>
<circle cx="383.77" cy="267.3" r="1.5" fill="#121212"/>
<circle cx="385.17" cy="275.62" r="1.5" fill="#121212"/>
<circle cx="377.83" cy="256.13" r="1.5" fill="#131313"/>
<circle cx="401.37" cy="259.51" r="1.5" fill="#121212"/>
<circle cx="407.28" cy="254.63" r="1.5" fill="#121212"/>
<circle cx="386.72" cy="273.26" r="1.5" fill="#121212"/>
<circle cx="386.11" cy="272.43" r="1.5" fill="#121212"/>
<circle cx="367.24" cy="263.16" r="1.5" fill="#121212"/>
<circle cx="384.87" cy="278.29" r="1.5" fill="#121212"/>
<circle cx="382.48" cy="272.27" r="1.5" fill="#121212"/>
<circle cx="376.61" cy="252.11" r="1.5" fill="#121212"/>
<circle cx="363.57" cy="290.53" r="1.5" fill="#121212"/>
<circle cx="369.17" cy="249.16" r="1.5" fill="#121212"/>
<circle cx="379.19" cy="277.76" r="1.5" fill="#121212"/>
<circle cx="368.09" cy="260.37" r="1.5" fill="#121212"/>
<circle cx="386.07" cy="269.57" r="1.5" fill="#121212"/>
<circle cx="364.53" cy="270.69" r="1.5" fill="#121212"/>
<circle cx="371.56" cy="263.48" r="1.5" fill="#121212"/>
<circle cx="379.8" cy="270.88" r="1.5" fill="#1a1a1a"/>
<circle cx="366.56" cy="275.09" r="1.5" fill="#131313"/>
<circle cx="352.13" cy="280.37" r="1.5" fill="#141414"/>
<circle cx="382.55" cy="274.25" r="1.5" fill="#121212"/>
<circle cx="365.13" cy="272.78" r="1.5" fill="#121212"/>
<circle cx="379.88" cy="274.33" r="1.5" fill="#121212"/>
<circle cx="367.75" cy="250.77" r="1.5" fill="#121212"/>
<circle cx="367.44" cy="274.11" r="1.5" fill="#141414"/>
<circle cx="392.42" cy="263.14" r="1.5" fill="#121212"/>
<circle cx="406.12" cy="256.04" r="1.5" fill="#121212"/>
<circle cx="380.79" cy="280.7" r="1.5" fill="#121212"/>
<circle cx="396.96" cy="271.27" r="1.5" fill="#121212"/>
<circle cx="364.32" cy="291.44" r="1.5" fill="#121212"/>
<circle cx="380.21" cy="270.62" r="1.5" fill="#161616"/>
<circle cx="346.14" cy="279.41" r="1.5" fill="#141414"/>
<circle cx="395.96" cy="255.42" r="1.5" fill="#121212"/>
<circle cx="368.18" cy="267.01" r="1.5" fill="#121212"/>
<circle cx="403.65" cy="260.2" r="1.5" fill="#121212"/>
<circle cx="383.05" cy="261.63" r="1.5" fill="#171717"/>
<circle cx="406.55" cy="250.15" r="1.5" fill="#121212"/>
<circle cx="368.79" cy="260.02" r="1.5" fill="#121212"/>
<circle cx="351.79" cy="283.89" r="1.5" fill="#141414"/>
<circle cx="384.76" cy="258.19" r="1.5" fill="#141414"/>
<circle cx="386.72" cy="275.85" r="1.5" fill="#121212"/>
<circle cx="371.46" cy="268.29" r="1.5" fill="#1d1d1d"/>
<circle cx="391.34" cy="272.06" r="1.5" fill="#121212"/>
<circle cx="374.27" cy="262" r="1.5" fill="#131313"/>
<circle cx="386.93" cy="275.93" r="1.5" fill="#121212"/>
<circle cx="394.82" cy="257.5" r="1.5" fill="#121212"/>
<circle cx="386.15" cy="269.41" r="1.5" fill="#121212"/>
<circle cx="380.83" cy="267.77" r="1.5" fill="#181818"/>
<circle cx="389.19" cy="272.24" r="1.5" fill="#121212"/>
<circle cx="379.79" cy="281.78" r="1.5" fill="#121212"/>
<circle cx="375.85" cy="261.05" r="1.5" fill="#171717"/>
<circle cx="348.61" cy="279.59" r="1.5" fill="#141414"/>
<circle cx="398.63" cy="265.97" r="1.5" fill="#121212"/>
<circle cx="384.72" cy="282.41" r="1.5" fill="#121212"/>
<circle cx="380.03" cy="259.34" r="1.5" fill="#1d1d1d"/>
<circle cx="364.74" cy="276.99" r="1.5" fill="#121212"/>
<circle cx="393.99" cy="275.95" r="1.5" fill="#121212"/>
<circle cx="405.12" cy="256.45" r="1.5" fill="#121212"/>
<circle cx="389.53" cy="278.11" r="1.5" fill="#121212"/>
<circle cx="401.03" cy="265.22" r="1.5" fill="#121212"/>
<circle cx="400.5" cy="256.97" r="1.5" fill="#121212"/>
<circle cx="375.83" cy="281.44" r="1.5" fill="#191919"/>
<circle cx="391.81" cy="278.56" r="1.5" fill="#121212"/>
<circle cx="392.68" cy="274.61" r="1.5" fill="#121212"/>
<circle cx="363.9" cy="285.62" r="1.5" fill="#121212"/>
<circle cx="370.84" cy="268.78" r="1.5" fill="#1a1a1a"/>
<circle cx="383.79" cy="254.62" r="1.5" fill="#171717"/>
<circle cx="374.86" cy="251.66" r="1.5" fill="#121212"/>
<circle cx="383.16" cy="268.17" r="1.5" fill="#121212"/>
<circle cx="394" cy="254.86" r="1.5" fill="#121212"/>
<circle cx="388.39" cy="267.54" r="1.5" fill="#121212"/>
<circle cx="349.67" cy="280.79" r="1.5" fill="#141414"/>
<circle cx="385.18" cy="272.56" r="1.5" fill="#121212"/>
<circle cx="395.21" cy="258.53" r="1.5" fill="#121212"/>
<circle cx="378.96" cy="281.73" r="1.5" fill="#121212"/>
<circle cx="377.96" cy="279.56" r="1.5" fill="#121212"/>
<circle cx="401.77" cy="254.01" r="1.5" fill="#121212"/>
<circle cx="399.47" cy="257.4" r="1.5" fill="#121212"/>
<circle cx="395.05" cy="271.42" r="1.5" fill="#121212"/>
<circle cx="384.34" cy="266.12" r="1.5" fill="#121212"/>
<circle cx="384.83" cy="267.76" r="1.5" fill="#121212"/>
<circle cx="381.18" cy="256.82" r="1.5" fill="#191919"/>
<circle cx="383.2" cy="272.73" r="1.5" fill="#121212"/>
<circle cx="380.13" cy="272.06" r="1.5" fill="#131313"/>
<circle cx="399.71" cy="274.29" r="1.5" fill="#121212"/>
<circle cx="364.78" cy="291.4" r="1.5" fill="#121212"/>
<circle cx="382.27" cy="265.26" r="1.5" fill="#161616"/>
<circle cx="402.53" cy="256.25" r="1.5" fill="#121212"/>
<circle cx="393.25" cy="272.06" r="1.5" fill="#121212"/>
<circle cx="376.37" cy="258.29" r="1.5" fill="#131313"/>
<circle cx="368" cy="253.44" r="1.5" fill="#121212"/>
<circle cx="376.37" cy="255.7" r="1.5" fill="#121212"/>
<circle cx="376.29" cy="277.24" r="1.5" fill="#252525"/>
<circle cx="400.19" cy="259.81" r="1.5" fill="#121212"/>
<circle cx="403.32" cy="262.75" r="1.5" fill="#121212"/>
<circle cx="385.54" cy="268.98" r="1.5" fill="#121212"/>
<circle cx="399.12" cy="272.4" r="1.5" fill="#121212"/>
<circle cx="363.59" cy="291.05" r="1.5" fill="#121212"/>
<circle cx="389.68" cy="277.48" r="1.5" fill="#121212"/>
<circle cx="401.49" cy="267.53" r="1.5" fill="#121212"/>
<circle cx="382.22" cy="281.69" r="1.5" fill="#121212"/>
<circle cx="403.77" cy="260.65" r="1.5" fill="#121212"/>
<circle cx="365.02" cy="263.09" r="1.5" fill="#121212"/>
<circle cx="398.26" cy="271.67" r="1.5" fill="#121212"/>
<circle cx="367.68" cy="255.53" r="1.5" fill="#121212"/>
<circle cx="401.6" cy="264.58" r="1.5" fill="#121212"/>
<circle cx="393.77" cy="274.74" r="1.5" fill="#121212"/>
<circle cx="370.03" cy="261.99" r="1.5" fill="#121212"/>
<circle cx="368.31" cy="271.56" r="1.5" fill="#121212"/>
<circle cx="397.22" cy="272.64" r="1.5" fill="#121212"/>
<circle cx="366.64" cy="263.19" r="1.5" fill="#121212"/>
<circle cx="382.15" cy="277.42" r="1.5" fill="#121212"/>
<circle cx="352.02" cy="284.16" r="1.5" fill="#141414"/>
<circle cx="402.16" cy="256.51" r="1.5" fill="#121212"/>
<circle cx="364.25" cy="291.23" r="1.5" fill="#121212"/>
<circle cx="350.02" cy="285.55" r="1.5" fill="#141414"/>
<circle cx="387.44" cy="261.3" r="1.5" fill="#121212"/>
<circle cx="371.35" cy="257.74" r="1.5" fill="#121212"/>
<circle cx="377.45" cy="276.31" r="1.5" fill="#161616"/>
<circle cx="401.21" cy="253.43" r="1.5" fill="#121212"/>
<circle cx="369.45" cy="259.36" r="1.5" fill="#121212"/>
<circle cx="399.54" cy="270.44" r="1.5" fill="#121212"/>
<circle cx="380.26" cy="280.48" r="1.5" fill="#121212"/>
<circle cx="353.05" cy="283.4" r="1.5" fill="#141414"/>
<circle cx="369.36" cy="271.34" r="1.5" fill="#1a1a1a"/>
<circle cx="399.93" cy="260.14" r="1.5" fill="#121212"/>
<circle cx="382.7" cy="277.53" r="1.5" fill="#121212"/>
<circle cx="373.28" cy="268.02" r="1.5" fill="#2e2e2e"/>
<circle cx="397.76" cy="261.01" r="1.5" fill="#121212"/>
<circle cx="372.98" cy="267.49" r="1.5" fill="#272727"/>
<circle cx="348.76" cy="285.17" r="1.5" fill="#141414"/>
<circle cx="373.54" cy="256.47" r="1.5" fill="#121212"/>
<circle cx="375.42" cy="261.32" r="1.5" fill="#161616"/>
<circle cx="369.41" cy="269.98" r="1.5" fill="#141414"/>
<circle cx="384.62" cy="259.17" r="1.5" fill="#141414"/>
<circle cx="404.3" cy="263.76" r="1.5" fill="#121212"/>
<circle cx="352.77" cy="275.2" r="1.5" fill="#141414"/>
<circle cx="374.2" cy="256.92" r="1.5" fill="#121212"/>
<circle cx="399.26" cy="271.29" r="1.5" fill="#121212"/>
<circle cx="374.62" cy="281.28" r="1.5" fill="#2c2c2c"/>
<circle cx="377.06" cy="279.8" r="1.5" fill="#131313"/>
<circle cx="369.1" cy="250.4" r="1.5" fill="#121212"/>
<circle cx="373.65" cy="260.31" r="1.5" fill="#121212"/>
<circle cx="379.2" cy="266.22" r="1.5" fill="#313131"/>
<circle cx="366.15" cy="268.01" r="1.5" fill="#121212"/>
<circle cx="364.52" cy="262.21" r="1.5" fill="#121212"/>
<circle cx="369.86" cy="269.97" r="1.5" fill="#161616"/>
<circle cx="380.68" cy="254.39" r="1.5" fill="#151515"/>
<circle cx="385.88" cy="277.88" r="1.5" fill="#121212"/>
<circle cx="349.21" cy="275.92" r="1.5" fill="#141414"/>
<circle cx="380.57" cy="260.69" r="1.5" fill="#242424"/>
<circle cx="385.91" cy="273.82" r="1.5" fill="#121212"/>
<circle cx="372.85" cy="268.45" r="1.5" fill="#2e2e2e"/>
<circle cx="400.78" cy="258.97" r="1.5" fill="#121212"/>
<circle cx="365.83" cy="271.33" r="1.5" fill="#121212"/>
<circle cx="377.36" cy="276.99" r="1.5" fill="#171717"/>
<circle cx="381.4" cy="267.66" r="1.5" fill="#171717"/>
<circle cx="393.54" cy="276.53" r="1.5" fill="#121212"/>
<circle cx="378.93" cy="273.55" r="1.5" fill="#161616"/>
<circle cx="371.43" cy="255.31" r="1.5" fill="#121212"/>
<circle cx="363.82" cy="288.42" r="1.5" fill="#121212"/>
<circle cx="384.36" cy="275.36" r="1.5" fill="#121212"/>
<circle cx="405.55" cy="250.62" r="1.5" fill="#121212"/>
<circle cx="370.95" cy="289.09" r="1.5" fill="#353535"/>
<circle cx="400.9" cy="271.97" r="1.5" fill="#121212"/>
<circle cx="397.71" cy="273.65" r="1.5" fill="#121212"/>
<circle cx="371.1" cy="262.51" r="1.5" fill="#121212"/>
<circle cx="403.95" cy="258.76" r="1.5" fill="#121212"/>
<circle cx="369.89" cy="270.04" r="1.5" fill="#171717"/>
<circle cx="377.32" cy="263.62" r="1.5" fill="#282828"/>
<circle cx="369.76" cy="256.3" r="1.5" fill="#121212"/>
<circle cx="363.84" cy="289.68" r="1.5" fill="#323232"/>
<circle cx="379.91" cy="268.02" r="1.5" fill="#242424"/>
<circle cx="352.31" cy="283.81" r="1.5" fill="#141414"/>
<circle cx="379.85" cy="271.05" r="1.5" fill="#181818"/>
<circle cx="368.69" cy="264.56" r="1.5" fill="#121212"/>
<circle cx="370.5" cy="270.54" r="1.5" fill="#232323"/>
<circle cx="371.69" cy="261.71" r="1.5" fill="#121212"/>
<circle cx="398.61" cy="269.53" r="1.5" fill="#121212"/>
<circle cx="390.09" cy="259.52" r="1.5" fill="#121212"/>
<circle cx="369.64" cy="249.05" r="1.5" fill="#121212"/>
<circle cx="389.47" cy="262.73" r="1.5" fill="#121212"/>
<circle cx="363.77" cy="291.4" r="1.5" fill="#121212"/>
<circle cx="377.03" cy="273.54" r="1.5" fill="#303030"/>
<circle cx="375.06" cy="257.39" r="1.5" fill="#121212"/>
<circle cx="364.24" cy="290.66" r="1.5" fill="#121212"/>
<circle cx="383.99" cy="275.87" r="1.5" fill="#121212"/>
<circle cx="381.63" cy="270.11" r="1.5" fill="#121212"/>
<circle cx="400.22" cy="254.51" r="1.5" fill="#121212"/>
<circle cx="400.16" cy="262.25" r="1.5" fill="#121212"/>
<circle cx="402.52" cy="248.78" r="1.5" fill="#121212"/>
<circle cx="400.29" cy="266.83" r="1.5" fill="#121212"/>
<circle cx="369.87" cy="253.68" r="1.5" fill="#121212"/>
<circle cx="375.88" cy="262.98" r="1.5" fill="#242424"/>
<circle cx="365.11" cy="284.09" r="1.5" fill="#373737"/>
<circle cx="386.08" cy="279.95" r="1.5" fill="#121212"/>
<circle cx="344.23" cy="276.99" r="1.5" fill="#141414"/>
<circle cx="386.25" cy="272.78" r="1.5" fill="#121212"/>
<circle cx="373.88" cy="253.63" r="1.5" fill="#121212"/>
<circle cx="390.54" cy="278.71" r="1.5" fill="#121212"/>
<circle cx="367.98" cy="262.36" r="1.5" fill="#121212"/>
<circle cx="378.43" cy="279.95" r="1.5" fill="#121212"/>
<circle cx="364.74" cy="285.22" r="1.5" fill="#313131"/>
<circle cx="380.41" cy="273.07" r="1.5" fill="#121212"/>
<circle cx="378.52" cy="275.83" r="1.5" fill="#131313"/>
<circle cx="377.6" cy="276.27" r="1.5" fill="#151515"/>
<circle cx="399.9" cy="268.42" r="1.5" fill="#121212"/>
<circle cx="347.18" cy="277.29" r="1.5" fill="#141414"/>
<circle cx="396.15" cy="268.83" r="1.5" fill="#121212"/>
<circle cx="345.74" cy="281.78" r="1.5" fill="#141414"/>
<circle cx="376.17" cy="253.93" r="1.5" fill="#121212"/>
<circle cx="363.46" cy="288.07" r="1.5" fill="#121212"/>
<circle cx="376.07" cy="284.23" r="1.5" fill="#1c1c1c"/>
<circle cx="349.38" cy="283.68" r="1.5" fill="#141414"/>
<circle cx="403.92" cy="258.49" r="1.5" fill="#121212"/>
<circle cx="402.73" cy="266.83" r="1.5" fill="#121212"/>
<circle cx="375.5" cy="253.75" r="1.5" fill="#121212"/>
<circle cx="363.79" cy="292.08" r="1.5" fill="#121212"/>
<circle cx="374.52" cy="259.95" r="1.5" fill="#121212"/>
<circle cx="399.56" cy="268.52" r="1.5" fill="#121212"/>
<circle cx="368.22" cy="266.39" r="1.5" fill="#121212"/>
<circle cx="369.46" cy="260.88" r="1.5" fill="#121212"/>
<circle cx="346.81" cy="282.53" r="1.5" fill="#141414"/>
<circle cx="406.71" cy="250.44" r="1.5" fill="#121212"/>
<circle cx="370.74" cy="268.28" r="1.5" fill="#151515"/>
<circle cx="378.01" cy="279.25" r="1.5" fill="#121212"/>
<circle cx="373.97" cy="287.69" r="1.5" fill="#323232"/>
<circle cx="365.51" cy="282.07" r="1.5" fill="#373737"/>
<circle cx="386.88" cy="269.94" r="1.5" fill="#121212"/>
<circle cx="384.96" cy="275.79" r="1.5" fill="#121212"/>
<circle cx="368.03" cy="275.03" r="1.5" fill="#282828"/>
<circle cx="380.2" cy="273.35" r="1.5" fill="#121212"/>
<circle cx="375.21" cy="265.89" r="1.5" fill="#363636"/>
<circle cx="375.39" cy="283.16" r="1.5" fill="#212121"/>
<circle cx="407.39" cy="249.34" r="1.5" fill="#121212"/>
<circle cx="365.65" cy="279.89" r="1.5" fill="#1f1f1f"/>
<circle cx="372.02" cy="269.2" r="1.5" fill="#272727"/>
<circle cx="374.6" cy="260.82" r="1.5" fill="#131313"/>
<circle cx="372.44" cy="245.44" r="1.5" fill="#121212"/>
<circle cx="366.96" cy="273.06" r="1.5" fill="#121212"/>
<circle cx="367.97" cy="274.36" r="1.5" fill="#1b1b1b"/>
<circle cx="347.78" cy="279.88" r="1.5" fill="#141414"/>
<circle cx="376.08" cy="277.84" r="1.5" fill="#1e1e1e"/>
<circle cx="397.12" cy="268.12" r="1.5" fill="#121212"/>
<circle cx="365.77" cy="279.43" r="1.5" fill="#1f1f1f"/>
<circle cx="382.04" cy="262.55" r="1.5" fill="#1b1b1b"/>
<circle cx="348.12" cy="275.94" r="1.5" fill="#141414"/>
<circle cx="379.56" cy="272.42" r="1.5" fill="#151515"/>
<circle cx="376.4" cy="264.94" r="1.5" fill="#363636"/>
<circle cx="403.51" cy="252.57" r="1.5" fill="#121212"/>
<circle cx="371.15" cy="264.4" r="1.5" fill="#121212"/>
<circle cx="377.83" cy="284.66" r="1.5" fill="#151515"/>
<circle cx="389.92" cy="276.57" r="1.5" fill="#121212"/>
<circle cx="370.61" cy="262.54" r="1.5" fill="#121212"/>
<circle cx="351.97" cy="282.96" r="1.5" fill="#141414"/>
<circle cx="380.19" cy="279.11" r="1.5" fill="#121212"/>
<circle cx="400.28" cy="265.49" r="1.5" fill="#121212"/>
<circle cx="389.83" cy="255.44" r="1.5" fill="#121212"/>
<circle cx="371.39" cy="267.54" r="1.5" fill="#171717"/>
<circle cx="378.25" cy="279.84" r="1.5" fill="#121212"/>
<circle cx="396.69" cy="265.64" r="1.5" fill="#121212"/>
<circle cx="396.39" cy="253.69" r="1.5" fill="#121212"/>
<circle cx="366.85" cy="268.07" r="1.5" fill="#121212"/>
<circle cx="370.17" cy="270.47" r="1.5" fill="#1e1e1e"/>
<circle cx="375.54" cy="257.69" r="1.5" fill="#121212"/>
<circle cx="374.32" cy="255.4" r="1.5" fill="#121212"/>
<circle cx="365.07" cy="268.27" r="1.5" fill="#121212"/>
<circle cx="364.03" cy="291.33" r="1.5" fill="#121212"/>
<circle cx="397.19" cy="271.27" r="1.5" fill="#121212"/>
<circle cx="389.92" cy="279.57" r="1.5" fill="#121212"/>
<circle cx="367.63" cy="268.97" r="1.5" fill="#121212"/>
<circle cx="379.05" cy="285.7" r="1.5" fill="#131313"/>
<circle cx="349.08" cy="278.76" r="1.5" fill="#141414"/>
<circle cx="374.96" cy="285.38" r="1.5" fill="#292929"/>
<circle cx="378.56" cy="285.01" r="1.5" fill="#131313"/>
<circle cx="396.96" cy="273.96" r="1.5" fill="#121212"/>
<circle cx="378.06" cy="279.3" r="1.5" fill="#121212"/>
<circle cx="348.45" cy="280.59" r="1.5" fill="#141414"/>
<circle cx="375.6" cy="263.38" r="1.5" fill="#242424"/>
<circle cx="396.6" cy="266.39" r="1.5" fill="#121212"/>
<circle cx="376.75" cy="279.29" r="1.5" fill="#151515"/>
<circle cx="389.75" cy="263.58" r="1.5" fill="#121212"/>
<circle cx="371.27" cy="257.01" r="1.5" fill="#121212"/>
<circle cx="380.55" cy="276.45" r="1.5" fill="#121212"/>
<circle cx="384.37" cy="266.69" r="1.5" fill="#121212"/>
<circle cx="370.91" cy="267.46" r="1.5" fill="#141414"/>
<circle cx="386.68" cy="279.75" r="1.5" fill="#121212"/>
<circle cx="374.87" cy="267.78" r="1.5" fill="#464646"/>
<circle cx="348.16" cy="278.75" r="1.5" fill="#141414"/>
<circle cx="367.4" cy="290.46" r="1.5" fill="#3a3a3a"/>
<circle cx="385.57" cy="269.93" r="1.5" fill="#121212"/>
<circle cx="378.79" cy="282.99" r="1.5" fill="#121212"/>
<circle cx="363.82" cy="290.21" r="1.5" fill="#424242"/>
<circle cx="382.98" cy="256.04" r="1.5" fill="#181818"/>
<circle cx="356.51" cy="287.24" r="1.5" fill="#464646"/>
<circle cx="370.82" cy="262.64" r="1.5" fill="#121212"/>
<circle cx="376.14" cy="267.42" r="1.5" fill="#444444"/>
<circle cx="377.8" cy="261.11" r="1.5" fill="#252525"/>
<circle cx="365.91" cy="276.31" r="1.5" fill="#121212"/>
<circle cx="397.24" cy="266.31" r="1.5" fill="#121212"/>
<circle cx="369.81" cy="265.08" r="1.5" fill="#121212"/>
<circle cx="351.05" cy="279.38" r="1.5" fill="#141414"/>
<circle cx="379.34" cy="271.12" r="1.5" fill="#1e1e1e"/>
<circle cx="377.99" cy="283.84" r="1.5" fill="#131313"/>
<circle cx="385.03" cy="271.24" r="1.5" fill="#121212"/>
<circle cx="364.13" cy="287.77" r="1.5" fill="#272727"/>
<circle cx="377.03" cy="275.32" r="1.5" fill="#272727"/>
<circle cx="351.46" cy="282.23" r="1.5" fill="#141414"/>
<circle cx="379.25" cy="249.27" r="1.5" fill="#121212"/>
<circle cx="366.81" cy="275.37" r="1.5" fill="#151515"/>
<circle cx="363.72" cy="291.7" r="1.5" fill="#121212"/>
<circle cx="371.2" cy="252.2" r="1.5" fill="#121212"/>
<circle cx="371.39" cy="271.79" r="1.5" fill="#424242"/>
<circle cx="381.57" cy="270.99" r="1.5" fill="#121212"/>
<circle cx="375.48" cy="253.64" r="1.5" fill="#121212"/>
<circle cx="375.87" cy="275.95" r="1.5" fill="#484848"/>
<circle cx="376.8" cy="274.77" r="1.5" fill="#353535"/>
<circle cx="376.6" cy="284.12" r="1.5" fill="#191919"/>
<circle cx="371.63" cy="268.95" r="1.5" fill="#222222"/>
<circle cx="385.34" cy="279.55" r="1.5" fill="#121212"/>
<circle cx="370.16" cy="273.29" r="1.5" fill="#3d3d3d"/>
<circle cx="375.51" cy="278.09" r="1.5" fill="#2d2d2d"/>
<circle cx="399.38" cy="256.09" r="1.5" fill="#121212"/>
<circle cx="348.46" cy="280.07" r="1.5" fill="#141414"/>
<circle cx="363.91" cy="288.23" r="1.5" fill="#121212"/>
<circle cx="385.41" cy="279.28" r="1.5" fill="#121212"/>
<circle cx="365.85" cy="252.91" r="1.5" fill="#121212"/>
<circle cx="374.99" cy="269.18" r="1.5" fill="#474747"/>
<circle cx="400.64" cy="264.33" r="1.5" fill="#121212"/>
<circle cx="366.29" cy="267.69" r="1.5" fill="#121212"/>
<circle cx="368.77" cy="264.58" r="1.5" fill="#121212"/>
<circle cx="403.12" cy="259.99" r="1.5" fill="#121212"/>
<circle cx="388.49" cy="253.17" r="1.5" fill="#121212"/>
<circle cx="385.74" cy="278.51" r="1.5" fill="#121212"/>
<circle cx="396.52" cy="260.06" r="1.5" fill="#121212"/>
<circle cx="367.81" cy="276.89" r="1.5" fill="#4e4e4e"/>
<circle cx="383.71" cy="272.23" r="1.5" fill="#121212"/>
<circle cx="377.14" cy="270.8" r="1.5" fill="#3b3b3b"/>
<circle cx="376.24" cy="276.23" r="1.5" fill="#333333"/>
<circle cx="387.37" cy="275.07" r="1.5" fill="#121212"/>
<circle cx="395.69" cy="272.74" r="1.5" fill="#121212"/>
<circle cx="385.59" cy="276.93" r="1.5" fill="#121212"/>
<circle cx="371.65" cy="270.17" r="1.5" fill="#2d2d2d"/>
<circle cx="407.36" cy="250.02" r="1.5" fill="#121212"/>
<circle cx="401.2" cy="265.22" r="1.5" fill="#121212"/>
<circle cx="384.02" cy="266.52" r="1.5" fill="#121212"/>
<circle cx="380.86" cy="281.23" r="1.5" fill="#121212"/>
<circle cx="371.47" cy="261.29" r="1.5" fill="#121212"/>
<circle cx="378.61" cy="272.32" r="1.5" fill="#232323"/>
<circle cx="369.88" cy="267.55" r="1.5" fill="#121212"/>
<circle cx="375.11" cy="277.35" r="1.5" fill="#4d4d4d"/>
<circle cx="384.2" cy="270.32" r="1.5" fill="#121212"/>
<circle cx="369.9" cy="271.16" r="1.5" fill="#202020"/>
<circle cx="352" cy="283.07" r="1.5" fill="#141414"/>
<circle cx="388.19" cy="274.19" r="1.5" fill="#121212"/>
<circle cx="369.28" cy="263.42" r="1.5" fill="#121212"/>
<circle cx="379.73" cy="265.65" r="1.5" fill="#2c2c2c"/>
<circle cx="369.8" cy="269.69" r="1.5" fill="#151515"/>
<circle cx="380.65" cy="274.81" r="1.5" fill="#121212"/>
<circle cx="368.95" cy="275.17" r="1.5" fill="#4f4f4f"/>
<circle cx="382.08" cy="248.44" r="1.5" fill="#121212"/>
<circle cx="364.44" cy="290.83" r="1.5" fill="#121212"/>
<circle cx="367.67" cy="273.21" r="1.5" fill="#131313"/>
<circle cx="377.01" cy="271.17" r="1.5" fill="#3d3d3d"/>
<circle cx="366.57" cy="279.89" r="1.5" fill="#484848"/>
<circle cx="393.59" cy="277.91" r="1.5" fill="#121212"/>
<circle cx="385.63" cy="274.01" r="1.5" fill="#121212"/>
<circle cx="381.72" cy="268.9" r="1.5" fill="#131313"/>
<circle cx="392.98" cy="275.59" r="1.5" fill="#121212"/>
<circle cx="391.56" cy="279.05" r="1.5" fill="#121212"/>
<circle cx="374" cy="267.04" r="1.5" fill="#373737"/>
<circle cx="375.24" cy="280.04" r="1.5" fill="#262626"/>
<circle cx="395.54" cy="272.56" r="1.5" fill="#121212"/>
<circle cx="395.66" cy="267.44" r="1.5" fill="#121212"/>
<circle cx="364.71" cy="291.06" r="1.5" fill="#121212"/>
<circle cx="384.4" cy="259.44" r="1.5" fill="#151515"/>
<circle cx="375.85" cy="277.48" r="1.5" fill="#2d2d2d"/>
<circle cx="377.61" cy="261.62" r="1.5" fill="#242424"/>
<circle cx="371.81" cy="260.5" r="1.5" fill="#121212"/>
<circle cx="390.16" cy="271.43" r="1.5" fill="#121212"/>
<circle cx="375.57" cy="266.23" r="1.5" fill="#414141"/>
<circle cx="367.06" cy="278.54" r="1.5" fill="#595959"/>
<circle cx="380.05" cy="267.57" r="1.5" fill="#242424"/>
<circle cx="366.37" cy="261.46" r="1.5" fill="#121212"/>
<circle cx="380.48" cy="266.42" r="1.5" fill="#212121"/>
<circle cx="402.27" cy="256.71" r="1.5" fill="#121212"/>
<circle cx="380.32" cy="268.76" r="1.5" fill="#1a1a1a"/>
<circle cx="366.37" cy="278.42" r="1.5" fill="#252525"/>
<circle cx="371.47" cy="288.08" r="1.5" fill="#444444"/>
<circle cx="363.9" cy="291.9" r="1.5" fill="#121212"/>
<circle cx="374.75" cy="266.24" r="1.5" fill="#353535"/>
<circle cx="374.59" cy="265.76" r="1.5" fill="#303030"/>
<circle cx="372.57" cy="270.32" r="1.5" fill="#545454"/>
<circle cx="370.62" cy="273.8" r="1.5" fill="#545454"/>
<circle cx="372.31" cy="265.67" r="1.5" fill="#161616"/>
<circle cx="372.54" cy="256.35" r="1.5" fill="#121212"/>
<circle cx="403.57" cy="251.46" r="1.5" fill="#121212"/>
<circle cx="371.88" cy="269.47" r="1.5" fill="#292929"/>
<circle cx="379.76" cy="254.76" r="1.5" fill="#151515"/>
<circle cx="399.38" cy="264.51" r="1.5" fill="#121212"/>
<circle cx="372.11" cy="246.78" r="1.5" fill="#121212"/>
<circle cx="368.48" cy="267.68" r="1.5" fill="#121212"/>
<circle cx="370.31" cy="269.53" r="1.5" fill="#191919"/>
<circle cx="404.1" cy="255.38" r="1.5" fill="#121212"/>
<circle cx="372.91" cy="266.73" r="1.5" fill="#1e1e1e"/>
<circle cx="369.37" cy="257.33" r="1.5" fill="#121212"/>
<circle cx="382.12" cy="279.69" r="1.5" fill="#121212"/>
<circle cx="376.75" cy="266.85" r="1.5" fill="#464646"/>
<circle cx="383.07" cy="278.24" r="1.5" fill="#121212"/>
<circle cx="398.79" cy="254.57" r="1.5" fill="#121212"/>
<circle cx="381.69" cy="272.71" r="1.5" fill="#121212"/>
<circle cx="401.31" cy="269.14" r="1.5" fill="#121212"/>
<circle cx="374.46" cy="274.36" r="1.5" fill="#5b5b5b"/>
<circle cx="366.3" cy="277.88" r="1.5" fill="#1e1e1e"/>
<circle cx="365.52" cy="282.42" r="1.5" fill="#393939"/>
<circle cx="397.16" cy="270.09" r="1.5" fill="#121212"/>
<circle cx="382.42" cy="257.74" r="1.5" fill="#1c1c1c"/>
<circle cx="387.59" cy="280.93" r="1.5" fill="#121212"/>
<circle cx="380.28" cy="247.56" r="1.5" fill="#121212"/>
<circle cx="375.62" cy="275.08" r="1.5" fill="#414141"/>
<circle cx="347.24" cy="282.37" r="1.5" fill="#141414"/>
<circle cx="368.16" cy="255" r="1.5" fill="#121212"/>
<circle cx="367.92" cy="271.58" r="1.5" fill="#121212"/>
<circle cx="370.17" cy="268.96" r="1.5" fill="#151515"/>
<circle cx="371.36" cy="254.92" r="1.5" fill="#121212"/>
<circle cx="363.69" cy="290.81" r="1.5" fill="#121212"/>
<circle cx="368.33" cy="256.53" r="1.5" fill="#121212"/>
<circle cx="378.6" cy="273.42" r="1.5" fill="#1a1a1a"/>
<circle cx="370.24" cy="268.74" r="1.5" fill="#141414"/>
<circle cx="369.37" cy="264.16" r="1.5" fill="#121212"/>
<circle cx="391.81" cy="277.37" r="1.5" fill="#121212"/>
<circle cx="374.55" cy="267.88" r="1.5" fill="#4a4a4a"/>
<circle cx="363.93" cy="291.59" r="1.5" fill="#121212"/>
<circle cx="382.23" cy="273.39" r="1.5" fill="#121212"/>
<circle cx="350.38" cy="275.2" r="1.5" fill="#141414"/>
<circle cx="377.3" cy="273.37" r="1.5" fill="#3a3a3a"/>
<circle cx="373.97" cy="247.12" r="1.5" fill="#121212"/>
<circle cx="374.17" cy="264.58" r="1.5" fill="#1c1c1c"/>
<circle cx="375.39" cy="277.06" r="1.5" fill="#494949"/>
<circle cx="379.15" cy="265.96" r="1.5" fill="#323232"/>
<circle cx="403.85" cy="254.74" r="1.5" fill="#121212"/>
<circle cx="376.67" cy="264.49" r="1.5" fill="#2c2c2c"/>
<circle cx="367.56" cy="255.36" r="1.5" fill="#121212"/>
<circle cx="385.6" cy="277.69" r="1.5" fill="#121212"/>
<circle cx="368.93" cy="273.55" r="1.5" fill="#2b2b2b"/>
<circle cx="369.13" cy="267.47" r="1.5" fill="#121212"/>
<circle cx="385.25" cy="269.12" r="1.5" fill="#121212"/>
<circle cx="356.98" cy="288.42" r="1.5" fill="#535353"/>
<circle cx="367.58" cy="271.49" r="1.5" fill="#121212"/>
<circle cx="387.82" cy="268.19" r="1.5" fill="#121212"/>
<circle cx="375.69" cy="255.72" r="1.5" fill="#121212"/>
<circle cx="368.69" cy="266.92" r="1.5" fill="#121212"/>
<circle cx="402.64" cy="253.48" r="1.5" fill="#121212"/>
<circle cx="399.59" cy="270.3" r="1.5" fill="#121212"/>
<circle cx="383.39" cy="261.3" r="1.5" fill="#161616"/>
<circle cx="374.56" cy="278.76" r="1.5" fill="#4a4a4a"/>
<circle cx="380.69" cy="267.47" r="1.5" fill="#1a1a1a"/>
<circle cx="382.83" cy="264.85" r="1.5" fill="#141414"/>
<circle cx="378.06" cy="261.37" r="1.5" fill="#252525"/>
<circle cx="378.18" cy="271.37" r="1.5" fill="#272727"/>
<circle cx="386.53" cy="260.81" r="1.5" fill="#121212"/>
<circle cx="405.94" cy="255.81" r="1.5" fill="#121212"/>
<circle cx="403.39" cy="254.96" r="1.5" fill="#121212"/>
<circle cx="376.22" cy="279.54" r="1.5" fill="#181818"/>
<circle cx="375.62" cy="268.14" r="1.5" fill="#424242"/>
<circle cx="400.24" cy="268.24" r="1.5" fill="#121212"/>
<circle cx="403.31" cy="251.42" r="1.5" fill="#121212"/>
<circle cx="388.41" cy="277.03" r="1.5" fill="#121212"/>
<circle cx="382.57" cy="277.95" r="1.5" fill="#121212"/>
<circle cx="353.27" cy="283.93" r="1.5" fill="#141414"/>
<circle cx="398.85" cy="271.91" r="1.5" fill="#121212"/>
<circle cx="366.27" cy="279.22" r="1.5" fill="#2e2e2e"/>
<circle cx="381.14" cy="270.06" r="1.5" fill="#131313"/>
<circle cx="375.51" cy="256.67" r="1.5" fill="#121212"/>
<circle cx="370.11" cy="258.33" r="1.5" fill="#121212"/>
<circle cx="374.38" cy="266.06" r="1.5" fill="#2f2f2f"/>
<circle cx="383.93" cy="278.12" r="1.5" fill="#121212"/>
<circle cx="372.49" cy="281.86" r="1.5" fill="#606060"/>
<circle cx="379.21" cy="270.66" r="1.5" fill="#222222"/>
<circle cx="401.06" cy="269.49" r="1.5" fill="#121212"/>
<circle cx="385.21" cy="254.16" r="1.5" fill="#161616"/>
<circle cx="370.04" cy="260.64" r="1.5" fill="#121212"/>
<circle cx="389.58" cy="278.47" r="1.5" fill="#121212"/>
<circle cx="392.45" cy="275.24" r="1.5" fill="#121212"/>
<circle cx="373.63" cy="276.53" r="1.5" fill="#646464"/>
<circle cx="372.69" cy="274" r="1.5" fill="#6a6a6a"/>
<circle cx="370.52" cy="273.42" r="1.5" fill="#454545"/>
<circle cx="358.41" cy="288.29" r="1.5" fill="#5f5f5f"/>
<circle cx="372.99" cy="270.44" r="1.5" fill="#616161"/>
<circle cx="374.69" cy="268.76" r="1.5" fill="#484848"/>
<circle cx="375.6" cy="265.6" r="1.5" fill="#373737"/>
<circle cx="374.83" cy="269.17" r="1.5" fill="#4a4a4a"/>
<circle cx="374.19" cy="274.26" r="1.5" fill="#6e6e6e"/>
<circle cx="373.59" cy="272.62" r="1.5" fill="#6e6e6e"/>
<circle cx="380.5" cy="265.19" r="1.5" fill="#202020"/>
<circle cx="375.85" cy="274.31" r="1.5" fill="#3f3f3f"/>
<circle cx="375.73" cy="263.82" r="1.5" fill="#2c2c2c"/>
<circle cx="369.85" cy="273.4" r="1.5" fill="#484848"/>
<circle cx="378.63" cy="269.28" r="1.5" fill="#313131"/>
<circle cx="368.12" cy="289.03" r="1.5" fill="#6d6d6d"/>
<circle cx="368.65" cy="278.45" r="1.5" fill="#6b6b6b"/>
<circle cx="368.75" cy="278.16" r="1.5" fill="#6e6e6e"/>
<circle cx="374.27" cy="283.85" r="1.5" fill="#353535"/>
<circle cx="359.49" cy="289.3" r="1.5" fill="#707070"/>
<circle cx="377.17" cy="274.44" r="1.5" fill="#2e2e2e"/>
<circle cx="370.85" cy="287.18" r="1.5" fill="#676767"/>
<circle cx="370.72" cy="270.74" r="1.5" fill="#2c2c2c"/>
<circle cx="376.35" cy="264.61" r="1.5" fill="#373737"/>
<circle cx="375.59" cy="269.72" r="1.5" fill="#5d5d5d"/>
<circle cx="359.65" cy="289.52" r="1.5" fill="#737373"/>
<circle cx="377.7" cy="262.01" r="1.5" fill="#2a2a2a"/>
<circle cx="373.03" cy="270.09" r="1.5" fill="#5c5c5c"/>
<circle cx="372.8" cy="278.39" r="1.5" fill="#777777"/>
<circle cx="365" cy="284.12" r="1.5" fill="#353535"/>
<circle cx="376.95" cy="272.6" r="1.5" fill="#3b3b3b"/>
<circle cx="377.88" cy="265.4" r="1.5" fill="#3c3c3c"/>
<circle cx="373.47" cy="277.98" r="1.5" fill="#5b5b5b"/>
<circle cx="378.25" cy="264.99" r="1.5" fill="#383838"/>
<circle cx="364.89" cy="286.18" r="1.5" fill="#575757"/>
<circle cx="375.51" cy="277.14" r="1.5" fill="#424242"/>
<circle cx="373.57" cy="271.65" r="1.5" fill="#555555"/>
<circle cx="375.3" cy="273.83" r="1.5" fill="#4f4f4f"/>
<circle cx="380.05" cy="266.94" r="1.5" fill="#252525"/>
<circle cx="367.04" cy="289.6" r="1.5" fill="#787878"/>
<circle cx="370.49" cy="274.29" r="1.5" fill="#565656"/>
<circle cx="372.96" cy="277.59" r="1.5" fill="#656565"/>
<circle cx="373.33" cy="282.05" r="1.5" fill="#5a5a5a"/>
<circle cx="369.5" cy="272.84" r="1.5" fill="#313131"/>
<circle cx="375.17" cy="269.3" r="1.5" fill="#565656"/>
<circle cx="376.09" cy="272.56" r="1.5" fill="#434343"/>
<circle cx="366.61" cy="288.78" r="1.5" fill="#7a7a7a"/>
<circle cx="372.34" cy="273.93" r="1.5" fill="#606060"/>
<circle cx="373.93" cy="277.83" r="1.5" fill="#5a5a5a"/>
<circle cx="365.72" cy="289.19" r="1.5" fill="#7b7b7b"/>
<circle cx="373.21" cy="277.06" r="1.5" fill="#666666"/>
<circle cx="371.02" cy="271.61" r="1.5" fill="#353535"/>
<circle cx="374.39" cy="270.23" r="1.5" fill="#4e4e4e"/>
<circle cx="371.81" cy="271.47" r="1.5" fill="#424242"/>
<circle cx="357.68" cy="287.18" r="1.5" fill="#505050"/>
<circle cx="375.11" cy="267.49" r="1.5" fill="#494949"/>
<circle cx="376.01" cy="272.94" r="1.5" fill="#464646"/>
<circle cx="371.18" cy="274.1" r="1.5" fill="#777777"/>
<circle cx="372.98" cy="271" r="1.5" fill="#666666"/>
<circle cx="378.48" cy="269.11" r="1.5" fill="#2d2d2d"/>
<circle cx="370.98" cy="270.1" r="1.5" fill="#2a2a2a"/>
<circle cx="368.58" cy="288.53" r="1.5" fill="#7c7c7c"/>
<circle cx="365.55" cy="290.78" r="1.5" fill="#7a7a7a"/>
<circle cx="375.28" cy="273.7" r="1.5" fill="#4c4c4c"/>
<circle cx="369.32" cy="276.41" r="1.5" fill="#5d5d5d"/>
<circle cx="371.43" cy="273.54" r="1.5" fill="#707070"/>
<circle cx="372.82" cy="284.16" r="1.5" fill="#606060"/>
<circle cx="374.4" cy="269.4" r="1.5" fill="#484848"/>
<circle cx="364.78" cy="286.33" r="1.5" fill="#505050"/>
<circle cx="367.67" cy="280.8" r="1.5" fill="#7d7d7d"/>
<circle cx="370.47" cy="285.82" r="1.5" fill="#7f7f7f"/>
<circle cx="375.11" cy="271.34" r="1.5" fill="#646464"/>
<circle cx="373.35" cy="284.34" r="1.5" fill="#4b4b4b"/>
<circle cx="371.48" cy="279.5" r="1.5" fill="#7a7a7a"/>
<circle cx="370.04" cy="274.18" r="1.5" fill="#454545"/>
<circle cx="366.55" cy="290.05" r="1.5" fill="#727272"/>
<circle cx="367.86" cy="279.66" r="1.5" fill="#777777"/>
<circle cx="376.67" cy="272.08" r="1.5" fill="#444444"/>
<circle cx="373.82" cy="283.91" r="1.5" fill="#404040"/>
<circle cx="359.37" cy="289.07" r="1.5" fill="#6d6d6d"/>
<circle cx="376.17" cy="266.59" r="1.5" fill="#3b3b3b"/>
<circle cx="375.01" cy="267.43" r="1.5" fill="#434343"/>
<circle cx="378.32" cy="267.38" r="1.5" fill="#3b3b3b"/>
<circle cx="369.89" cy="272.71" r="1.5" fill="#393939"/>
<circle cx="370.16" cy="281.38" r="1.5" fill="#828282"/>
<circle cx="374.37" cy="270.32" r="1.5" fill="#4d4d4d"/>
<circle cx="365.72" cy="289.18" r="1.5" fill="#868686"/>
<circle cx="373.81" cy="267.83" r="1.5" fill="#434343"/>
<circle cx="368.74" cy="289.29" r="1.5" fill="#3d3d3d"/>
<circle cx="372.24" cy="282.48" r="1.5" fill="#606060"/>
<circle cx="374.77" cy="275.12" r="1.5" fill="#646464"/>
<circle cx="365.13" cy="290.49" r="1.5" fill="#8a8a8a"/>
<circle cx="374.4" cy="272.9" r="1.5" fill="#717171"/>
<circle cx="375.51" cy="272.19" r="1.5" fill="#5d5d5d"/>
<circle cx="376.42" cy="274.93" r="1.5" fill="#3e3e3e"/>
<circle cx="364.49" cy="287.36" r="1.5" fill="#424242"/>
<circle cx="370.77" cy="277.15" r="1.5" fill="#737373"/>
<circle cx="369.05" cy="277.39" r="1.5" fill="#696969"/>
<circle cx="370.85" cy="275.5" r="1.5" fill="#8a8a8a"/>
<circle cx="376.4" cy="275.15" r="1.5" fill="#404040"/>
<circle cx="368.32" cy="289.51" r="1.5" fill="#414141"/>
<circle cx="367.07" cy="284.77" r="1.5" fill="#878787"/>
<circle cx="372.59" cy="270.66" r="1.5" fill="#5c5c5c"/>
<circle cx="372.23" cy="278.22" r="1.5" fill="#6e6e6e"/>
<circle cx="367.34" cy="282.21" r="1.5" fill="#969696"/>
<circle cx="373.47" cy="268.69" r="1.5" fill="#474747"/>
<circle cx="367.16" cy="281.77" r="1.5" fill="#7d7d7d"/>
<circle cx="370.39" cy="287.66" r="1.5" fill="#5f5f5f"/>
<circle cx="369.28" cy="286.65" r="1.5" fill="#909090"/>
<circle cx="374.45" cy="275.84" r="1.5" fill="#6c6c6c"/>
<circle cx="364.55" cy="289.15" r="1.5" fill="#808080"/>
<circle cx="370.29" cy="286" r="1.5" fill="#818181"/>
<circle cx="367.36" cy="277.31" r="1.5" fill="#424242"/>
<circle cx="367.86" cy="288.2" r="1.5" fill="#969696"/>
<circle cx="370.17" cy="287.71" r="1.5" fill="#6e6e6e"/>
<circle cx="367.44" cy="282.32" r="1.5" fill="#848484"/>
<circle cx="370" cy="274.48" r="1.5" fill="#494949"/>
<circle cx="370.19" cy="288.27" r="1.5" fill="#474747"/>
<circle cx="369.93" cy="278.84" r="1.5" fill="#7b7b7b"/>
<circle cx="371.17" cy="273.92" r="1.5" fill="#7b7b7b"/>
<circle cx="373.73" cy="277.99" r="1.5" fill="#575757"/>
<circle cx="367.12" cy="282.51" r="1.5" fill="#8b8b8b"/>
<circle cx="372.45" cy="273.57" r="1.5" fill="#666666"/>
<circle cx="367.64" cy="279.64" r="1.5" fill="#8f8f8f"/>
<circle cx="367.05" cy="279.72" r="1.5" fill="#727272"/>
<circle cx="365.16" cy="287.71" r="1.5" fill="#888888"/>
<circle cx="372.55" cy="278.53" r="1.5" fill="#818181"/>
<circle cx="368.15" cy="279.36" r="1.5" fill="#717171"/>
<circle cx="371.67" cy="278.8" r="1.5" fill="#8e8e8e"/>
<circle cx="366.87" cy="282.14" r="1.5" fill="#979797"/>
<circle cx="367.17" cy="280.7" r="1.5" fill="#939393"/>
<circle cx="366.6" cy="290.32" r="1.5" fill="#535353"/>
<circle cx="373.67" cy="275.68" r="1.5" fill="#5d5d5d"/>
<circle cx="369.79" cy="278.61" r="1.5" fill="#a0a0a0"/>
<circle cx="375.8" cy="274.01" r="1.5" fill="#4c4c4c"/>
<circle cx="367.4" cy="281.66" r="1.5" fill="#7e7e7e"/>
<circle cx="371.03" cy="280.17" r="1.5" fill="#787878"/>
<circle cx="370.64" cy="275.53" r="1.5" fill="#898989"/>
<circle cx="373.81" cy="280.01" r="1.5" fill="#5a5a5a"/>
<circle cx="368.81" cy="281.11" r="1.5" fill="#929292"/>
<circle cx="372.89" cy="281.98" r="1.5" fill="#767676"/>
<circle cx="375.96" cy="270.17" r="1.5" fill="#636363"/>
<circle cx="376.1" cy="268.51" r="1.5" fill="#515151"/>
<circle cx="370.61" cy="280.93" r="1.5" fill="#818181"/>
<circle cx="365.69" cy="288.39" r="1.5" fill="#9e9e9e"/>
<circle cx="370.13" cy="286.49" r="1.5" fill="#898989"/>
<circle cx="369.72" cy="276.97" r="1.5" fill="#767676"/>
<circle cx="365.42" cy="287.27" r="1.5" fill="#949494"/>
<circle cx="373.27" cy="280.15" r="1.5" fill="#7e7e7e"/>
<circle cx="372.56" cy="281.03" r="1.5" fill="#868686"/>
<circle cx="372.71" cy="274.39" r="1.5" fill="#888888"/>
<circle cx="364.78" cy="287.79" r="1.5" fill="#a4a4a4"/>
<circle cx="370.93" cy="285.89" r="1.5" fill="#838383"/>
<circle cx="367.24" cy="280.72" r="1.5" fill="#9a9a9a"/>
<circle cx="366.79" cy="281.6" r="1.5" fill="#a9a9a9"/>
<circle cx="370.02" cy="281.61" r="1.5" fill="#868686"/>
<circle cx="368.59" cy="283.95" r="1.5" fill="#898989"/>
<circle cx="372.02" cy="276.1" r="1.5" fill="#868686"/>
<circle cx="368.72" cy="283.91" r="1.5" fill="#7c7c7c"/>
<circle cx="367.3" cy="279.96" r="1.5" fill="#959595"/>
<circle cx="369.91" cy="277.83" r="1.5" fill="#a1a1a1"/>
<circle cx="370.54" cy="276.04" r="1.5" fill="#8d8d8d"/>
<circle cx="374.8" cy="272.75" r="1.5" fill="#656565"/>
<circle cx="373.77" cy="273.51" r="1.5" fill="#898989"/>
<circle cx="372.53" cy="277.99" r="1.5" fill="#6f6f6f"/>
<circle cx="370.63" cy="275.73" r="1.5" fill="#878787"/>
<circle cx="371.51" cy="277.71" r="1.5" fill="#9f9f9f"/>
<circle cx="367.25" cy="287.84" r="1.5" fill="#a3a3a3"/>
<circle cx="371.55" cy="273.26" r="1.5" fill="#787878"/>
<circle cx="368.16" cy="279.11" r="1.5" fill="#6e6e6e"/>
<circle cx="370.45" cy="286.18" r="1.5" fill="#898989"/>
<circle cx="372.38" cy="281.79" r="1.5" fill="#7e7e7e"/>
<circle cx="369.35" cy="282.67" r="1.5" fill="#838383"/>
<circle cx="365.17" cy="289.28" r="1.5" fill="#9f9f9f"/>
<circle cx="372" cy="273.96" r="1.5" fill="#787878"/>
<circle cx="371.92" cy="272.07" r="1.5" fill="#6a6a6a"/>
<circle cx="372.43" cy="277.99" r="1.5" fill="#696969"/>
<circle cx="365.17" cy="291.08" r="1.5" fill="#797979"/>
<circle cx="373.03" cy="276.97" r="1.5" fill="#646464"/>
<circle cx="365.33" cy="287.97" r="1.5" fill="#aeaeae"/>
<circle cx="364.91" cy="289.5" r="1.5" fill="#a8a8a8"/>
<circle cx="365.7" cy="287.92" r="1.5" fill="#b0b0b0"/>
<circle cx="361.29" cy="290.61" r="1.5" fill="#898989"/>
<circle cx="367.75" cy="287.29" r="1.5" fill="#aaaaaa"/>
<circle cx="375.18" cy="269.95" r="1.5" fill="#5f5f5f"/>
<circle cx="371.93" cy="284.24" r="1.5" fill="#818181"/>
<circle cx="369.02" cy="281.55" r="1.5" fill="#b2b2b2"/>
<circle cx="367.22" cy="279.04" r="1.5" fill="#6e6e6e"/>
<circle cx="364.84" cy="290.67" r="1.5" fill="#9a9a9a"/>
<circle cx="364.34" cy="289.35" r="1.5" fill="#909090"/>
<circle cx="367.24" cy="284.26" r="1.5" fill="#8d8d8d"/>
<circle cx="366.27" cy="286.69" r="1.5" fill="#adadad"/>
<circle cx="367.66" cy="279.34" r="1.5" fill="#7d7d7d"/>
<circle cx="365.45" cy="286.95" r="1.5" fill="#8a8a8a"/>
<circle cx="372.35" cy="283.44" r="1.5" fill="#767676"/>
<circle cx="370.32" cy="280.59" r="1.5" fill="#959595"/>
<circle cx="366.47" cy="288.48" r="1.5" fill="#b7b7b7"/>
<circle cx="371.12" cy="279.25" r="1.5" fill="#898989"/>
<circle cx="373.71" cy="276.1" r="1.5" fill="#656565"/>
<circle cx="372.65" cy="276.23" r="1.5" fill="#959595"/>
<circle cx="369.01" cy="287.79" r="1.5" fill="#7d7d7d"/>
<circle cx="369.12" cy="285.59" r="1.5" fill="#ababab"/>
<circle cx="366.91" cy="281.18" r="1.5" fill="#9c9c9c"/>
<circle cx="367.18" cy="289.15" r="1.5" fill="#848484"/>
<circle cx="367.37" cy="287.99" r="1.5" fill="#797979"/>
<circle cx="366.66" cy="287.75" r="1.5" fill="#8b8b8b"/>
<circle cx="365.6" cy="285.55" r="1.5" fill="#9b9b9b"/>
<circle cx="369.61" cy="278.99" r="1.5" fill="#a3a3a3"/>
<circle cx="368.24" cy="283.45" r="1.5" fill="#bebebe"/>
<circle cx="365.13" cy="287.2" r="1.5" fill="#9b9b9b"/>
<circle cx="367.17" cy="288.04" r="1.5" fill="#7e7e7e"/>
<circle cx="369.13" cy="285.77" r="1.5" fill="#818181"/>
<circle cx="360.36" cy="288.83" r="1.5" fill="#737373"/>
<circle cx="371.48" cy="275.17" r="1.5" fill="#8d8d8d"/>
<circle cx="365.04" cy="291.32" r="1.5" fill="#6d6d6d"/>
<circle cx="369.22" cy="282.11" r="1.5" fill="#aeaeae"/>
<circle cx="364.92" cy="287.08" r="1.5" fill="#8e8e8e"/>
<circle cx="365.4" cy="284.86" r="1.5" fill="#8a8a8a"/>
<circle cx="370.18" cy="278.61" r="1.5" fill="#7f7f7f"/>
<circle cx="366.23" cy="288.32" r="1.5" fill="#8a8a8a"/>
<circle cx="366.54" cy="285.2" r="1.5" fill="#afafaf"/>
<circle cx="366.75" cy="286.52" r="1.5" fill="#bcbcbc"/>
<circle cx="366.07" cy="288.62" r="1.5" fill="#797979"/>
<circle cx="367.66" cy="282.67" r="1.5" fill="#c3c3c3"/>
<circle cx="366.98" cy="283.11" r="1.5" fill="#888888"/>
<circle cx="367.35" cy="288.19" r="1.5" fill="#bebebe"/>
<circle cx="368.17" cy="286.66" r="1.5" fill="#a0a0a0"/>
<circle cx="366.02" cy="285.89" r="1.5" fill="#8c8c8c"/>
<circle cx="366.23" cy="289.48" r="1.5" fill="#adadad"/>
<circle cx="370.79" cy="283.34" r="1.5" fill="#999999"/>
<circle cx="364.97" cy="289.85" r="1.5" fill="#7b7b7b"/>
<circle cx="369.38" cy="279.08" r="1.5" fill="#a5a5a5"/>
<circle cx="365.04" cy="289.47" r="1.5" fill="#b8b8b8"/>
<circle cx="367.47" cy="281.85" r="1.5" fill="#8e8e8e"/>
<circle cx="366.23" cy="288.04" r="1.5" fill="#aaaaaa"/>
<circle cx="370.93" cy="284.57" r="1.5" fill="#9e9e9e"/>
<circle cx="366.06" cy="287.41" r="1.5" fill="#a3a3a3"/>
<circle cx="367.62" cy="284.54" r="1.5" fill="#b8b8b8"/>
<circle cx="368.86" cy="288.09" r="1.5" fill="#7d7d7d"/>
<circle cx="364.1" cy="290.26" r="1.5" fill="#7c7c7c"/>
<circle cx="366.52" cy="286.27" r="1.5" fill="#aeaeae"/>
<circle cx="368.19" cy="287.19" r="1.5" fill="#bababa"/>
<circle cx="372.44" cy="280.57" r="1.5" fill="#9e9e9e"/>
<circle cx="369.21" cy="282.21" r="1.5" fill="#c4c4c4"/>
<circle cx="366.68" cy="284.85" r="1.5" fill="#bebebe"/>
<circle cx="370.87" cy="279.47" r="1.5" fill="#8c8c8c"/>
<circle cx="369.91" cy="276.64" r="1.5" fill="#8c8c8c"/>
<circle cx="365.14" cy="288.16" r="1.5" fill="#b6b6b6"/>
<circle cx="365.34" cy="289.07" r="1.5" fill="#a6a6a6"/>
<circle cx="367.17" cy="287.24" r="1.5" fill="#cacaca"/>
<circle cx="368.39" cy="287.94" r="1.5" fill="#868686"/>
<circle cx="367.45" cy="286.79" r="1.5" fill="#838383"/>
<circle cx="367.49" cy="288.57" r="1.5" fill="#949494"/>
<circle cx="365.14" cy="287.03" r="1.5" fill="#9e9e9e"/>
<circle cx="365.76" cy="287.44" r="1.5" fill="#909090"/>
<circle cx="365.88" cy="285.77" r="1.5" fill="#858585"/>
<circle cx="365.53" cy="285.48" r="1.5" fill="#a4a4a4"/>
<circle cx="368.6" cy="286.24" r="1.5" fill="#afafaf"/>
<circle cx="365.69" cy="287.91" r="1.5" fill="#ababab"/>
<circle cx="365.09" cy="289.94" r="1.5" fill="#8b8b8b"/>
<circle cx="366.37" cy="286.65" r="1.5" fill="#a9a9a9"/>
<circle cx="372.2" cy="280.91" r="1.5" fill="#9d9d9d"/>
<circle cx="372.33" cy="281.01" r="1.5" fill="#8b8b8b"/>
<circle cx="365.23" cy="288.43" r="1.5" fill="#bababa"/>
<circle cx="371.57" cy="281.4" r="1.5" fill="#b4b4b4"/>
<circle cx="371.34" cy="283.76" r="1.5" fill="#a0a0a0"/>
<circle cx="365.5" cy="287.84" r="1.5" fill="#b4b4b4"/>
<circle cx="368.75" cy="285.99" r="1.5" fill="#ababab"/>
<circle cx="367.52" cy="286.95" r="1.5" fill="#c3c3c3"/>
<circle cx="365.49" cy="288.41" r="1.5" fill="#b5b5b5"/>
<circle cx="366.47" cy="286.1" r="1.5" fill="#8e8e8e"/>
<circle cx="366.29" cy="285.74" r="1.5" fill="#c4c4c4"/>
<circle cx="371.25" cy="280.79" r="1.5" fill="#909090"/>
<circle cx="365.17" cy="286.73" r="1.5" fill="#9b9b9b"/>
<circle cx="364.32" cy="289.17" r="1.5" fill="#979797"/>
<circle cx="369.28" cy="285.47" r="1.5" fill="#a8a8a8"/>
<circle cx="367.39" cy="286.55" r="1.5" fill="#989898"/>
<circle cx="365.51" cy="287.47" r="1.5" fill="#adadad"/>
<circle cx="365.07" cy="290.23" r="1.5" fill="#cbcbcb"/>
<circle cx="369.71" cy="280.18" r="1.5" fill="#9d9d9d"/>
<circle cx="364.74" cy="290.4" r="1.5" fill="#989898"/>
<circle cx="366.88" cy="285.17" r="1.5" fill="#959595"/>
<circle cx="369.55" cy="283" r="1.5" fill="#9a9a9a"/>
<circle cx="365.46" cy="287.54" r="1.5" fill="#c2c2c2"/>
<circle cx="365.61" cy="288.07" r="1.5" fill="#b3b3b3"/>
<circle cx="365.86" cy="285.15" r="1.5" fill="#9f9f9f"/>
<circle cx="370" cy="276.47" r="1.5" fill="#9d9d9d"/>
<circle cx="367.35" cy="283.42" r="1.5" fill="#c0c0c0"/>
<circle cx="368.46" cy="283.03" r="1.5" fill="#b1b1b1"/>
<circle cx="371.73" cy="277.82" r="1.5" fill="#a3a3a3"/>
<circle cx="369.94" cy="285.4" r="1.5" fill="#b6b6b6"/>
<circle cx="366.49" cy="286.35" r="1.5" fill="#adadad"/>
<circle cx="367.15" cy="287.79" r="1.5" fill="#aaaaaa"/>
<circle cx="364.73" cy="289.14" r="1.5" fill="#bebebe"/>
<circle cx="370.85" cy="284.23" r="1.5" fill="#b8b8b8"/>
<circle cx="364.98" cy="290.39" r="1.5" fill="#b6b6b6"/>
<circle cx="371.2" cy="283.79" r="1.5" fill="#adadad"/>
<circle cx="366.67" cy="289.1" r="1.5" fill="#aeaeae"/>
<circle cx="366.5" cy="285.25" r="1.5" fill="#c6c6c6"/>
<circle cx="370.13" cy="283.63" r="1.5" fill="#c3c3c3"/>
<circle cx="368.45" cy="286.89" r="1.5" fill="#c0c0c0"/>
<circle cx="365.35" cy="288.88" r="1.5" fill="#bababa"/>
<circle cx="367.03" cy="283.54" r="1.5" fill="#c3c3c3"/>
<circle cx="363.25" cy="292.9" r="1.5" fill="#111"/>
<circle cx="327.5" cy="280" r="1.5" fill="#111"/>
<circle cx="345.8" cy="267.5" r="1.5" fill="#111"/>
<circle cx="408.5" cy="203.3" r="1.5" fill="#111"/>
<circle cx="386.6" cy="218.1" r="1.5" fill="#111"/>
<circle cx="368.6" cy="220.8" r="1.5" fill="#111"/>
<circle cx="372.2" cy="224.3" r="1.5" fill="#111"/>
<circle cx="407.6" cy="227" r="1.5" fill="#111"/>
<circle cx="373.1" cy="232.7" r="1.5" fill="#111"/>
<circle cx="405.2" cy="234.4" r="1.5" fill="#111"/>
<circle cx="378.5" cy="236.3" r="1.5" fill="#111"/>
<circle cx="382.3" cy="235.4" r="1.5" fill="#111"/>
<circle cx="385.3" cy="237.1" r="1.5" fill="#111"/>
<circle cx="373.6" cy="238.3" r="1.5" fill="#111"/>
<circle cx="396.7" cy="239.4" r="1.5" fill="#111"/>
<circle cx="409.2" cy="240.1" r="1.5" fill="#111"/>
<circle cx="379.3" cy="240.5" r="1.5" fill="#111"/>
<circle cx="384.3" cy="241.4" r="1.5" fill="#111"/>
<circle cx="381.6" cy="242.8" r="1.5" fill="#111"/>
<circle cx="406.5" cy="243.2" r="1.5" fill="#111"/>
<circle cx="392.4" cy="244.5" r="1.5" fill="#111"/>
<circle cx="367.5" cy="245.5" r="1.5" fill="#111"/>
<circle cx="372.2" cy="246.8" r="1.5" fill="#111"/>
<circle cx="376.9" cy="246.8" r="1.5" fill="#111"/>
<circle cx="381.2" cy="246.1" r="1.5" fill="#111"/>
<circle cx="383.6" cy="248.2" r="1.5" fill="#111"/>
<circle cx="369.5" cy="249.5" r="1.5" fill="#111"/>
<circle cx="387.4" cy="249.5" r="1.5" fill="#111"/>
<circle cx="394.4" cy="249.9" r="1.5" fill="#111"/>
<circle cx="366.2" cy="252.9" r="1.5" fill="#111"/>
<circle cx="390.4" cy="253.5" r="1.5" fill="#111"/>
<circle cx="395.8" cy="254.9" r="1.5" fill="#111"/>
<circle cx="393.1" cy="257.6" r="1.5" fill="#111"/>
<circle cx="400.5" cy="257.6" r="1.5" fill="#111"/>
<circle cx="389.7" cy="258.9" r="1.5" fill="#111"/>
<circle cx="407.9" cy="252.2" r="1.5" fill="#111"/>
<circle cx="405.9" cy="254.2" r="1.5" fill="#111"/>
<circle cx="403.2" cy="255.6" r="1.5" fill="#111"/>
<circle cx="374.5" cy="250.3" r="1.5" fill="#111"/>
<circle cx="378" cy="249.2" r="1.5" fill="#111"/>
<circle cx="371" cy="251.5" r="1.5" fill="#111"/>
<line x1="315" y1="277.9" x2="515" y2="277.9" stroke="#2c3760" stroke-width="0.95" stroke-dasharray="4.8 3.5"/>
<circle cx="324.3" cy="201.8" r="2.3" fill="#e8192c"/>
<circle cx="410" cy="176.8" r="2.3" fill="#e8192c"/>
<circle cx="507" cy="204" r="2.3" fill="#e8192c"/>
<rect x="315" y="171.3" width="200" height="126.7" fill="none" stroke="#4a4a4a" stroke-width="0.7"/>
<rect x="317.3" y="204.2" width="13.5" height="6.5" fill="#fff" stroke="#3a3a3a" stroke-width="0.7" rx="1.2"/>
<text x="324.05" y="209.5" font-size="5.7" text-anchor="middle" stroke="#000" stroke-width="0.08">RB1</text>
<rect x="412.5" y="173.3" width="23" height="6.7" fill="#fff" stroke="#3a3a3a" stroke-width="0.7" rx="1.2"/>
<text x="424" y="178.7" font-size="5.7" text-anchor="middle" stroke="#000" stroke-width="0.08">CCNE1</text>
<rect x="478" y="200.7" width="26.5" height="6.8" fill="#fff" stroke="#3a3a3a" stroke-width="0.7" rx="1.2"/>
<text x="491.25" y="206.15" font-size="5.7" text-anchor="middle" stroke="#000" stroke-width="0.08">CDKN2A</text>
<line x1="312.8" y1="294.5" x2="315" y2="294.5" stroke="#333" stroke-width="0.8"/>
<text x="312.6" y="297.2" font-size="7.4" text-anchor="end" fill="#3a3a3a" stroke="#3a3a3a" stroke-width="0.22">0</text>
<line x1="312.8" y1="253" x2="315" y2="253" stroke="#333" stroke-width="0.8"/>
<text x="312.6" y="255.7" font-size="7.4" text-anchor="end" fill="#3a3a3a" stroke="#3a3a3a" stroke-width="0.22">5</text>
<line x1="312.8" y1="211.5" x2="315" y2="211.5" stroke="#333" stroke-width="0.8"/>
<text x="312.6" y="214.2" font-size="7.4" text-anchor="end" fill="#3a3a3a" stroke="#3a3a3a" stroke-width="0.22">10</text>
<line x1="363.25" y1="298" x2="363.25" y2="300.2" stroke="#333" stroke-width="0.8"/>
<text x="363.25" y="306.3" font-size="7.4" text-anchor="middle" fill="#3a3a3a" stroke="#3a3a3a" stroke-width="0.22">0</text>
<line x1="421.25" y1="298" x2="421.25" y2="300.2" stroke="#333" stroke-width="0.8"/>
<text x="421.25" y="306.3" font-size="7.4" text-anchor="middle" fill="#3a3a3a" stroke="#3a3a3a" stroke-width="0.22">1</text>
<line x1="479.25" y1="298" x2="479.25" y2="300.2" stroke="#333" stroke-width="0.8"/>
<text x="479.25" y="306.3" font-size="7.4" text-anchor="middle" fill="#3a3a3a" stroke="#3a3a3a" stroke-width="0.22">2</text>
<text x="416.3" y="314.4" font-size="9.5" text-anchor="middle" fill="#111" textLength="43.5" lengthAdjust="spacingAndGlyphs" stroke="#111" stroke-width="0.22">Effect size</text>
<text x="297.4" y="236" font-size="9.4" text-anchor="middle" fill="#111" stroke="#111" stroke-width="0.2" transform="rotate(-90 297.4 236)" textLength="71" lengthAdjust="spacingAndGlyphs">−Log<tspan font-size="6.58" dy="1.6">10</tspan><tspan dy="-1.6"> (</tspan><tspan font-style="italic">q</tspan> value)</text>
<line x1="402.6" y1="322.6" x2="330.5" y2="322.6" stroke="#222" stroke-width="1.1"/>
<path d="M327.5 322.6 L335.5 319.4 L333 322.6 L335.5 325.8 Z" fill="#222"/>
<line x1="415.7" y1="322.6" x2="488" y2="322.6" stroke="#222" stroke-width="1.1"/>
<path d="M491 322.6 L483 319.4 L485.5 322.6 L483 325.8 Z" fill="#222"/>
<text x="357.2" y="334.6" font-size="9.3" text-anchor="middle" fill="#111" textLength="78.3" lengthAdjust="spacingAndGlyphs" stroke="#111" stroke-width="0.22">CDK4/6 dependent</text>
<text x="357" y="345.4" font-size="9.3" text-anchor="middle" fill="#111" stroke="#111" stroke-width="0.22">cells</text>
<text x="460.2" y="334.6" font-size="9.3" text-anchor="middle" fill="#111" textLength="96.5" lengthAdjust="spacingAndGlyphs" stroke="#111" stroke-width="0.22">CDK4/6 nondependent,</text>
<text x="461.8" y="345.8" font-size="9.3" text-anchor="middle" fill="#111" textLength="79.5" lengthAdjust="spacingAndGlyphs" stroke="#111" stroke-width="0.22">RB1-proficient cells</text>
<text font-size="16" font-weight="bold" transform="translate(0 370.6) scale(1 1.05)">D</text>
<text x="6.2" y="437" font-size="12" fill="#111" textLength="29" lengthAdjust="spacingAndGlyphs" stroke="#111" stroke-width="0.22">CDK2</text>
<text x="1.2" y="455.3" font-size="12" fill="#111" textLength="34.4" lengthAdjust="spacingAndGlyphs" stroke="#111" stroke-width="0.22">Tubulin</text>
<text x="84.5" y="381.3" font-size="10.6" text-anchor="middle" fill="#111" textLength="43" lengthAdjust="spacingAndGlyphs" stroke="#111" stroke-width="0.22">OVCAR8</text>
<line x1="39.2" y1="387.7" x2="126.3" y2="387.7" stroke="#111" stroke-width="1.1"/>
<text x="54.3" y="421.3" font-size="6.6" fill="#111" transform="rotate(-45 54.3 421.3)" stroke="#111" stroke-width="0.22">sgCDK2.1</text>
<text x="82.8" y="421.3" font-size="6.6" fill="#111" transform="rotate(-45 82.8 421.3)" stroke="#111" stroke-width="0.22">sgCDK2.2</text>
<text x="113" y="421.3" font-size="6.6" fill="#111" transform="rotate(-45 113 421.3)" stroke="#111" stroke-width="0.22">sgControl</text>
<rect x="39.8" y="423.1" width="84.4" height="16.7" fill="#e2e2e2"/>
<g clip-path="url(#c1)">
<ellipse cx="54.7" cy="431" rx="9.7" ry="1.23" fill="#555" opacity="0.45" filter="url(#b1)"/>
<ellipse cx="82.15" cy="432" rx="9.25" ry="1.23" fill="#555" opacity="0.38" filter="url(#b1)"/>
<rect x="99.9" y="430.3" width="21.1" height="4.2" rx="2.1" fill="#0a0a0a" opacity="1" filter="url(#b1)"/>
</g>
<rect x="39.8" y="423.1" width="84.4" height="16.7" fill="none" stroke="#1a1a1a" stroke-width="1"/>
<rect x="39.8" y="443" width="84.4" height="16.7" fill="#eeeeee"/>
<g clip-path="url(#c2)">
<rect x="44" y="448" width="21" height="5.4" rx="2.7" fill="#0a0a0a" opacity="1" filter="url(#b1)"/>
<rect x="72.3" y="449.8" width="19.7" height="5.4" rx="2.7" fill="#0a0a0a" opacity="1" filter="url(#b1)"/>
<rect x="98" y="449.7" width="22.2" height="5.4" rx="2.7" fill="#0a0a0a" opacity="1" filter="url(#b1)"/>
</g>
<rect x="39.8" y="443" width="84.4" height="16.7" fill="none" stroke="#1a1a1a" stroke-width="1"/>
<text x="46.7" y="489.4" font-size="6.7" fill="#111" transform="rotate(-45 46.7 489.4)" stroke="#111" stroke-width="0.22">sgCDK2.1</text>
<text x="80.7" y="489.4" font-size="6.7" fill="#111" transform="rotate(-45 80.7 489.4)" stroke="#111" stroke-width="0.22">sgCDK2.2</text>
<text x="112.4" y="489.4" font-size="6.7" fill="#111" transform="rotate(-45 112.4 489.4)" stroke="#111" stroke-width="0.22">sgControl</text>
<circle cx="48.6" cy="507" r="15.3" fill="url(#g3)"/>
<circle cx="48.6" cy="507" r="14.7" fill="#fff" filter="url(#f4)"/>
<circle cx="48.6" cy="507" r="14.7" fill="#fff" filter="url(#f5)"/>
<circle cx="80.8" cy="507" r="15.3" fill="url(#g6)"/>
<circle cx="80.8" cy="507" r="14.7" fill="#fff" filter="url(#f7)"/>
<circle cx="80.8" cy="507" r="14.7" fill="#fff" filter="url(#f8)"/>
<circle cx="114" cy="507" r="15.3" fill="url(#g9)"/>
<circle cx="114" cy="507" r="14.7" fill="#fff" filter="url(#f10)"/>
<circle cx="114" cy="507" r="14.7" fill="#fff" filter="url(#f11)"/>
<text x="16.6" y="580.5" font-size="8" text-anchor="middle" fill="#111" transform="rotate(-90 16.6 580.5)" textLength="93" lengthAdjust="spacingAndGlyphs" stroke="#111" stroke-width="0.22">Percentage of cell viability</text>
<text x="27.5" y="580.5" font-size="8" text-anchor="middle" fill="#111" transform="rotate(-90 27.5 580.5)" textLength="63" lengthAdjust="spacingAndGlyphs" stroke="#111" stroke-width="0.22">relative to control</text>
<rect x="54.7" y="627.2" width="13.3" height="5.8" fill="#b17fc8" stroke="#111" stroke-width="0.9"/>
<rect x="75.2" y="626.38" width="13.5" height="6.62" fill="#b17fc8" stroke="#111" stroke-width="0.9"/>
<rect x="95.3" y="565.77" width="13.3" height="67.23" fill="#d9d9d9" stroke="#111" stroke-width="0.9"/>
<circle cx="55.8" cy="624.7" r="1.55" fill="#fff" stroke="#111" stroke-width="0.95"/>
<circle cx="55.8" cy="628.61" r="1.55" fill="#fff" stroke="#111" stroke-width="0.95"/>
<circle cx="59.4" cy="625.98" r="1.55" fill="#fff" stroke="#111" stroke-width="0.95"/>
<circle cx="62.3" cy="625.71" r="1.55" fill="#fff" stroke="#111" stroke-width="0.95"/>
<circle cx="66.6" cy="625.71" r="1.55" fill="#fff" stroke="#111" stroke-width="0.95"/>
<circle cx="76.5" cy="623.08" r="1.55" fill="#fff" stroke="#111" stroke-width="0.95"/>
<circle cx="76.5" cy="626.72" r="1.55" fill="#fff" stroke="#111" stroke-width="0.95"/>
<circle cx="81.8" cy="623.55" r="1.55" fill="#fff" stroke="#111" stroke-width="0.95"/>
<circle cx="84" cy="624.97" r="1.55" fill="#fff" stroke="#111" stroke-width="0.95"/>
<circle cx="87.1" cy="625.44" r="1.55" fill="#fff" stroke="#111" stroke-width="0.95"/>
<circle cx="102" cy="561.52" r="1.55" fill="#fff" stroke="#111" stroke-width="0.95"/>
<circle cx="99.1" cy="565.43" r="1.55" fill="#fff" stroke="#111" stroke-width="0.95"/>
<circle cx="105.3" cy="565.43" r="1.55" fill="#fff" stroke="#111" stroke-width="0.95"/>
<circle cx="102" cy="568.74" r="1.55" fill="#fff" stroke="#111" stroke-width="0.95"/>
<line x1="47.7" y1="531.25" x2="47.7" y2="633.5" stroke="#111" stroke-width="1"/>
<line x1="47.2" y1="633" x2="115.6" y2="633" stroke="#111" stroke-width="1"/>
<line x1="44.7" y1="633" x2="47.7" y2="633" stroke="#111" stroke-width="0.9"/>
<text x="44.1" y="635.6" font-size="7.1" text-anchor="end" fill="#111" stroke="#111" stroke-width="0.22">0</text>
<line x1="44.7" y1="599.25" x2="47.7" y2="599.25" stroke="#111" stroke-width="0.9"/>
<text x="44.1" y="601.85" font-size="7.1" text-anchor="end" fill="#111" stroke="#111" stroke-width="0.22">50</text>
<line x1="44.7" y1="565.5" x2="47.7" y2="565.5" stroke="#111" stroke-width="0.9"/>
<text x="44.1" y="568.1" font-size="7.1" text-anchor="end" fill="#111" stroke="#111" stroke-width="0.22">100</text>
<line x1="44.7" y1="531.75" x2="47.7" y2="531.75" stroke="#111" stroke-width="0.9"/>
<text x="44.1" y="534.35" font-size="7.1" text-anchor="end" fill="#111" stroke="#111" stroke-width="0.22">150</text>
<line x1="61.35" y1="633" x2="61.35" y2="636.8" stroke="#111" stroke-width="0.9"/>
<text x="62.65" y="643.9" font-size="7.2" text-anchor="end" fill="#111" transform="rotate(-45 62.65 643.9)" stroke="#111" stroke-width="0.22">sgCDK2.1</text>
<line x1="81.95" y1="633" x2="81.95" y2="636.8" stroke="#111" stroke-width="0.9"/>
<text x="83.25" y="643.9" font-size="7.2" text-anchor="end" fill="#111" transform="rotate(-45 83.25 643.9)" stroke="#111" stroke-width="0.22">sgCDK2.2</text>
<line x1="101.95" y1="633" x2="101.95" y2="636.8" stroke="#111" stroke-width="0.9"/>
<text x="101.75" y="645.4" font-size="7.2" text-anchor="end" fill="#111" transform="rotate(-45 101.75 645.4)" stroke="#111" stroke-width="0.22">sgControl</text>
<text x="61" y="618.6" font-size="6" text-anchor="middle" fill="#111" stroke="#111" stroke-width="0.22">*</text>
<text x="81.8" y="618.6" font-size="6" text-anchor="middle" fill="#111" stroke="#111" stroke-width="0.22">*</text>
<text x="198.8" y="381.3" font-size="10.6" text-anchor="middle" fill="#111" textLength="45" lengthAdjust="spacingAndGlyphs" stroke="#111" stroke-width="0.22">OVSAHO</text>
<line x1="154.2" y1="387.7" x2="240.6" y2="387.7" stroke="#111" stroke-width="1.1"/>
<text x="168.6" y="421.3" font-size="6.6" fill="#111" transform="rotate(-45 168.6 421.3)" stroke="#111" stroke-width="0.22">sgCDK2.1</text>
<text x="196.6" y="421.3" font-size="6.6" fill="#111" transform="rotate(-45 196.6 421.3)" stroke="#111" stroke-width="0.22">sgCDK2.2</text>
<text x="227.1" y="421.3" font-size="6.6" fill="#111" transform="rotate(-45 227.1 421.3)" stroke="#111" stroke-width="0.22">sgControl</text>
<rect x="154.5" y="423.2" width="84.1" height="16.7" fill="#e2e2e2"/>
<g clip-path="url(#c12)">
<ellipse cx="168.4" cy="433.1" rx="10.2" ry="1.29" fill="#444" opacity="0.5" filter="url(#b1)"/>
<ellipse cx="196.35" cy="432.9" rx="9.45" ry="1.29" fill="#444" opacity="0.52" filter="url(#b1)"/>
<ellipse cx="223.3" cy="431.3" rx="9.9" ry="1.74" fill="#222" opacity="0.9" filter="url(#b1)"/>
</g>
<rect x="154.5" y="423.2" width="84.1" height="16.7" fill="none" stroke="#1a1a1a" stroke-width="1"/>
<rect x="154.5" y="443.4" width="84.1" height="16.1" fill="#ededed"/>
<g clip-path="url(#c13)">
<rect x="159" y="449.6" width="21.3" height="5" rx="2.5" fill="#0a0a0a" opacity="1" filter="url(#b1)"/>
<rect x="186.6" y="449.4" width="21" height="5" rx="2.5" fill="#0a0a0a" opacity="1" filter="url(#b1)"/>
<rect x="213.3" y="448.5" width="21.7" height="5" rx="2.5" fill="#0a0a0a" opacity="1" filter="url(#b1)"/>
</g>
<rect x="154.5" y="443.4" width="84.1" height="16.1" fill="none" stroke="#1a1a1a" stroke-width="1"/>
<text x="165.6" y="489.4" font-size="6.7" fill="#111" transform="rotate(-45 165.6 489.4)" stroke="#111" stroke-width="0.22">sgCDK2.1</text>
<text x="199.3" y="489.4" font-size="6.7" fill="#111" transform="rotate(-45 199.3 489.4)" stroke="#111" stroke-width="0.22">sgCDK2.2</text>
<text x="231.8" y="489.4" font-size="6.7" fill="#111" transform="rotate(-45 231.8 489.4)" stroke="#111" stroke-width="0.22">sgControl</text>
<circle cx="165" cy="506.4" r="15.5" fill="url(#g14)"/>
<circle cx="165" cy="506.4" r="14.9" fill="#fff" filter="url(#f15)"/>
<circle cx="165" cy="506.4" r="14.9" fill="#fff" filter="url(#f16)"/>
<circle cx="198" cy="506.4" r="15.5" fill="url(#g17)"/>
<circle cx="198" cy="506.4" r="14.9" fill="#fff" filter="url(#f18)"/>
<circle cx="198" cy="506.4" r="14.9" fill="#fff" filter="url(#f19)"/>
<circle cx="229.8" cy="506.4" r="15.5" fill="url(#g20)"/>
<circle cx="229.8" cy="506.4" r="14.9" fill="#fff" filter="url(#f21)"/>
<circle cx="229.8" cy="506.4" r="14.9" fill="#fff" filter="url(#f22)"/>
<text x="139.8" y="580.5" font-size="8" text-anchor="middle" fill="#111" transform="rotate(-90 139.8 580.5)" textLength="93" lengthAdjust="spacingAndGlyphs" stroke="#111" stroke-width="0.22">Percentage of cell viability</text>
<text x="149.9" y="580.5" font-size="8" text-anchor="middle" fill="#111" transform="rotate(-90 149.9 580.5)" textLength="63" lengthAdjust="spacingAndGlyphs" stroke="#111" stroke-width="0.22">relative to control</text>
<rect x="177.5" y="625.03" width="13.3" height="6.97" fill="#b17fc8" stroke="#111" stroke-width="0.9"/>
<rect x="197.5" y="622.5" width="13" height="9.5" fill="#b17fc8" stroke="#111" stroke-width="0.9"/>
<rect x="217.5" y="566.26" width="13.3" height="65.74" fill="#d9d9d9" stroke="#111" stroke-width="0.9"/>
<circle cx="179.6" cy="625.36" r="1.55" fill="#fff" stroke="#111" stroke-width="0.95"/>
<circle cx="182.6" cy="623.9" r="1.55" fill="#fff" stroke="#111" stroke-width="0.95"/>
<circle cx="185.8" cy="624.96" r="1.55" fill="#fff" stroke="#111" stroke-width="0.95"/>
<circle cx="188.8" cy="624.96" r="1.55" fill="#fff" stroke="#111" stroke-width="0.95"/>
<circle cx="199.3" cy="623.04" r="1.55" fill="#fff" stroke="#111" stroke-width="0.95"/>
<circle cx="202.8" cy="622.57" r="1.55" fill="#fff" stroke="#111" stroke-width="0.95"/>
<circle cx="204.2" cy="619.92" r="1.55" fill="#fff" stroke="#111" stroke-width="0.95"/>
<circle cx="208.4" cy="622.7" r="1.55" fill="#fff" stroke="#111" stroke-width="0.95"/>
<circle cx="219.2" cy="564.6" r="1.55" fill="#fff" stroke="#111" stroke-width="0.95"/>
<circle cx="221.7" cy="566.06" r="1.55" fill="#fff" stroke="#111" stroke-width="0.95"/>
<circle cx="225.5" cy="565.87" r="1.55" fill="#fff" stroke="#111" stroke-width="0.95"/>
<circle cx="229.2" cy="565.87" r="1.55" fill="#fff" stroke="#111" stroke-width="0.95"/>
<line x1="171.3" y1="531.9" x2="171.3" y2="632.5" stroke="#111" stroke-width="1"/>
<line x1="170.8" y1="632" x2="237" y2="632" stroke="#111" stroke-width="1"/>
<line x1="168.3" y1="632" x2="171.3" y2="632" stroke="#111" stroke-width="0.9"/>
<text x="167.7" y="634.6" font-size="7.1" text-anchor="end" fill="#111" stroke="#111" stroke-width="0.22">0</text>
<line x1="168.3" y1="598.8" x2="171.3" y2="598.8" stroke="#111" stroke-width="0.9"/>
<text x="167.7" y="601.4" font-size="7.1" text-anchor="end" fill="#111" stroke="#111" stroke-width="0.22">50</text>
<line x1="168.3" y1="565.6" x2="171.3" y2="565.6" stroke="#111" stroke-width="0.9"/>
<text x="167.7" y="568.2" font-size="7.1" text-anchor="end" fill="#111" stroke="#111" stroke-width="0.22">100</text>
<line x1="168.3" y1="532.4" x2="171.3" y2="532.4" stroke="#111" stroke-width="0.9"/>
<text x="167.7" y="535" font-size="7.1" text-anchor="end" fill="#111" stroke="#111" stroke-width="0.22">150</text>
<line x1="184.15" y1="632" x2="184.15" y2="635.8" stroke="#111" stroke-width="0.9"/>
<text x="185.45" y="642.9" font-size="7.2" text-anchor="end" fill="#111" transform="rotate(-45 185.45 642.9)" stroke="#111" stroke-width="0.22">sgCDK2.1</text>
<line x1="204" y1="632" x2="204" y2="635.8" stroke="#111" stroke-width="0.9"/>
<text x="205.3" y="642.9" font-size="7.2" text-anchor="end" fill="#111" transform="rotate(-45 205.3 642.9)" stroke="#111" stroke-width="0.22">sgCDK2.2</text>
<line x1="224.15" y1="632" x2="224.15" y2="635.8" stroke="#111" stroke-width="0.9"/>
<text x="223.95" y="644.4" font-size="7.2" text-anchor="end" fill="#111" transform="rotate(-45 223.95 644.4)" stroke="#111" stroke-width="0.22">sgControl</text>
<text x="183" y="615.2" font-size="6" text-anchor="middle" fill="#111" stroke="#111" stroke-width="0.22">*</text>
<text x="203.8" y="615.2" font-size="6" text-anchor="middle" fill="#111" stroke="#111" stroke-width="0.22">*</text>
<text font-size="16" font-weight="bold" transform="translate(264.8 370.7) scale(1 1.05)">E</text>
<text x="270" y="438" font-size="12" fill="#111" textLength="28.8" lengthAdjust="spacingAndGlyphs" stroke="#111" stroke-width="0.22">CDK2</text>
<text x="265.4" y="456.3" font-size="12" fill="#111" textLength="33.6" lengthAdjust="spacingAndGlyphs" stroke="#111" stroke-width="0.22">Tubulin</text>
<text x="350" y="381.9" font-size="10.6" text-anchor="middle" fill="#111" textLength="52.5" lengthAdjust="spacingAndGlyphs" stroke="#111" stroke-width="0.22">NCI-H3122</text>
<line x1="304.6" y1="388.8" x2="392" y2="388.8" stroke="#111" stroke-width="1.1"/>
<text x="319.3" y="418.6" font-size="6.6" fill="#111" transform="rotate(-45 319.3 418.6)" stroke="#111" stroke-width="0.22">sgCDK2.1</text>
<text x="347.6" y="418.6" font-size="6.6" fill="#111" transform="rotate(-45 347.6 418.6)" stroke="#111" stroke-width="0.22">sgCDK2.2</text>
<text x="377" y="418.6" font-size="6.6" fill="#111" transform="rotate(-45 377 418.6)" stroke="#111" stroke-width="0.22">sgControl</text>
<rect x="304.6" y="424.2" width="84.6" height="16.4" fill="#e2e2e2"/>
<g clip-path="url(#c23)">
<ellipse cx="317.75" cy="433.4" rx="8.85" ry="1.23" fill="#444" opacity="0.48" filter="url(#b1)"/>
<ellipse cx="346.45" cy="433.8" rx="8.75" ry="1.23" fill="#444" opacity="0.48" filter="url(#b1)"/>
<ellipse cx="373.25" cy="432.3" rx="8.85" ry="1.57" fill="#1a1a1a" opacity="0.95" filter="url(#b1)"/>
</g>
<rect x="304.6" y="424.2" width="84.6" height="16.4" fill="none" stroke="#1a1a1a" stroke-width="1"/>
<rect x="304.6" y="444" width="84.6" height="16" fill="#eeeeee"/>
<g clip-path="url(#c24)">
<rect x="311.8" y="449.7" width="20.5" height="5" rx="2.5" fill="#0a0a0a" opacity="1" filter="url(#b1)"/>
<rect x="339.5" y="449.7" width="20.5" height="5" rx="2.5" fill="#0a0a0a" opacity="1" filter="url(#b1)"/>
<rect x="367" y="449.7" width="18.8" height="5" rx="2.5" fill="#0a0a0a" opacity="1" filter="url(#b1)"/>
</g>
<rect x="304.6" y="444" width="84.6" height="16" fill="none" stroke="#1a1a1a" stroke-width="1"/>
<text x="315.3" y="488.5" font-size="6.7" fill="#111" transform="rotate(-45 315.3 488.5)" stroke="#111" stroke-width="0.22">sgCDK2.1</text>
<text x="349.1" y="488.5" font-size="6.7" fill="#111" transform="rotate(-45 349.1 488.5)" stroke="#111" stroke-width="0.22">sgCDK2.2</text>
<text x="381.7" y="488.5" font-size="6.7" fill="#111" transform="rotate(-45 381.7 488.5)" stroke="#111" stroke-width="0.22">sgControl</text>
<circle cx="315.4" cy="507" r="16" fill="url(#g25)"/>
<circle cx="315.4" cy="507" r="15.4" fill="#fff" filter="url(#f26)"/>
<circle cx="315.4" cy="507" r="15.4" fill="#fff" filter="url(#f27)"/>
<circle cx="349.2" cy="507" r="16" fill="url(#g28)"/>
<circle cx="349.2" cy="507" r="15.4" fill="#fff" filter="url(#f29)"/>
<circle cx="349.2" cy="507" r="15.4" fill="#fff" filter="url(#f30)"/>
<circle cx="383.2" cy="507" r="16" fill="url(#g31)"/>
<circle cx="383.2" cy="507" r="15.4" fill="#fff" filter="url(#f32)"/>
<circle cx="383.2" cy="507" r="15.4" fill="#fff" filter="url(#f33)"/>
<text x="292.2" y="581" font-size="8" text-anchor="middle" fill="#111" transform="rotate(-90 292.2 581)" textLength="93" lengthAdjust="spacingAndGlyphs" stroke="#111" stroke-width="0.22">Percentage of cell viability</text>
<text x="302.6" y="581" font-size="8" text-anchor="middle" fill="#111" transform="rotate(-90 302.6 581)" textLength="63" lengthAdjust="spacingAndGlyphs" stroke="#111" stroke-width="0.22">relative to control</text>
<rect x="330" y="574.95" width="13.6" height="57.45" fill="#b17fc8" stroke="#111" stroke-width="0.9"/>
<rect x="350.3" y="572.28" width="13.5" height="60.12" fill="#b17fc8" stroke="#111" stroke-width="0.9"/>
<rect x="370.3" y="565.6" width="13.7" height="66.8" fill="#d9d9d9" stroke="#111" stroke-width="0.9"/>
<line x1="336.8" y1="576.96" x2="336.8" y2="572.61" stroke="#111" stroke-width="0.8"/>
<line x1="334.4" y1="576.96" x2="339.2" y2="576.96" stroke="#111" stroke-width="0.8"/>
<line x1="334.4" y1="572.61" x2="339.2" y2="572.61" stroke="#111" stroke-width="0.8"/>
<line x1="357" y1="574.28" x2="357" y2="570.28" stroke="#111" stroke-width="0.8"/>
<line x1="354.6" y1="574.28" x2="359.4" y2="574.28" stroke="#111" stroke-width="0.8"/>
<line x1="354.6" y1="570.28" x2="359.4" y2="570.28" stroke="#111" stroke-width="0.8"/>
<line x1="377.2" y1="569.61" x2="377.2" y2="561.59" stroke="#111" stroke-width="0.8"/>
<line x1="374.8" y1="569.61" x2="379.6" y2="569.61" stroke="#111" stroke-width="0.8"/>
<line x1="374.8" y1="561.59" x2="379.6" y2="561.59" stroke="#111" stroke-width="0.8"/>
<circle cx="337.1" cy="568.67" r="1.55" fill="#fff" stroke="#111" stroke-width="0.95"/>
<circle cx="333.3" cy="574.48" r="1.55" fill="#fff" stroke="#111" stroke-width="0.95"/>
<circle cx="340.9" cy="574.82" r="1.55" fill="#fff" stroke="#111" stroke-width="0.95"/>
<circle cx="336.8" cy="579.49" r="1.55" fill="#fff" stroke="#111" stroke-width="0.95"/>
<circle cx="353.9" cy="570.08" r="1.55" fill="#fff" stroke="#111" stroke-width="0.95"/>
<circle cx="360.3" cy="568.67" r="1.55" fill="#fff" stroke="#111" stroke-width="0.95"/>
<circle cx="360.3" cy="573.48" r="1.55" fill="#fff" stroke="#111" stroke-width="0.95"/>
<circle cx="353.9" cy="576.42" r="1.55" fill="#fff" stroke="#111" stroke-width="0.95"/>
<circle cx="377.5" cy="557.58" r="1.55" fill="#fff" stroke="#111" stroke-width="0.95"/>
<circle cx="377.5" cy="561.32" r="1.55" fill="#fff" stroke="#111" stroke-width="0.95"/>
<circle cx="377.2" cy="568.67" r="1.55" fill="#fff" stroke="#111" stroke-width="0.95"/>
<circle cx="377.2" cy="573.88" r="1.55" fill="#fff" stroke="#111" stroke-width="0.95"/>
<line x1="321.5" y1="531.7" x2="321.5" y2="632.9" stroke="#111" stroke-width="1"/>
<line x1="321" y1="632.4" x2="391" y2="632.4" stroke="#111" stroke-width="1"/>
<line x1="318.5" y1="632.4" x2="321.5" y2="632.4" stroke="#111" stroke-width="0.9"/>
<text x="317.9" y="635" font-size="7.1" text-anchor="end" fill="#111" stroke="#111" stroke-width="0.22">0</text>
<line x1="318.5" y1="599" x2="321.5" y2="599" stroke="#111" stroke-width="0.9"/>
<text x="317.9" y="601.6" font-size="7.1" text-anchor="end" fill="#111" stroke="#111" stroke-width="0.22">50</text>
<line x1="318.5" y1="565.6" x2="321.5" y2="565.6" stroke="#111" stroke-width="0.9"/>
<text x="317.9" y="568.2" font-size="7.1" text-anchor="end" fill="#111" stroke="#111" stroke-width="0.22">100</text>
<line x1="318.5" y1="532.2" x2="321.5" y2="532.2" stroke="#111" stroke-width="0.9"/>
<text x="317.9" y="534.8" font-size="7.1" text-anchor="end" fill="#111" stroke="#111" stroke-width="0.22">150</text>
<line x1="336.8" y1="632.4" x2="336.8" y2="636.2" stroke="#111" stroke-width="0.9"/>
<text x="338.1" y="643.3" font-size="7.2" text-anchor="end" fill="#111" transform="rotate(-45 338.1 643.3)" stroke="#111" stroke-width="0.22">sgCDK2.1</text>
<line x1="357.05" y1="632.4" x2="357.05" y2="636.2" stroke="#111" stroke-width="0.9"/>
<text x="358.35" y="643.3" font-size="7.2" text-anchor="end" fill="#111" transform="rotate(-45 358.35 643.3)" stroke="#111" stroke-width="0.22">sgCDK2.2</text>
<line x1="377.15" y1="632.4" x2="377.15" y2="636.2" stroke="#111" stroke-width="0.9"/>
<text x="376.95" y="644.8" font-size="7.2" text-anchor="end" fill="#111" transform="rotate(-45 376.95 644.8)" stroke="#111" stroke-width="0.22">sgControl</text>
<text x="337.9" y="562.4" font-size="6.6" text-anchor="middle" fill="#222" stroke="#222" stroke-width="0.22">ns</text>
<text x="357.4" y="562.4" font-size="6.6" text-anchor="middle" fill="#222" stroke="#222" stroke-width="0.22">ns</text>
<text x="464" y="381.9" font-size="10.6" text-anchor="middle" fill="#111" textLength="52" lengthAdjust="spacingAndGlyphs" stroke="#111" stroke-width="0.22">NCI-H1792</text>
<line x1="418.8" y1="389.4" x2="505.5" y2="389.4" stroke="#111" stroke-width="1.1"/>
<text x="434.5" y="419.8" font-size="6.6" fill="#111" transform="rotate(-45 434.5 419.8)" stroke="#111" stroke-width="0.22">sgCDK2.1</text>
<text x="462.8" y="419.8" font-size="6.6" fill="#111" transform="rotate(-45 462.8 419.8)" stroke="#111" stroke-width="0.22">sgCDK2.2</text>
<text x="492.8" y="419.8" font-size="6.6" fill="#111" transform="rotate(-45 492.8 419.8)" stroke="#111" stroke-width="0.22">sgControl</text>
<rect x="419.3" y="424.5" width="84.5" height="16.3" fill="#e3e3e3"/>
<g clip-path="url(#c34)">
<ellipse cx="432.5" cy="433" rx="9.1" ry="1.29" fill="#777" opacity="0.25" filter="url(#b2)"/>
<ellipse cx="458.5" cy="433" rx="8.1" ry="1.29" fill="#777" opacity="0.2" filter="url(#b2)"/>
<ellipse cx="487.75" cy="432.6" rx="9.85" ry="1.46" fill="#444" opacity="0.62" filter="url(#b1)"/>
</g>
<rect x="419.3" y="424.5" width="84.5" height="16.3" fill="none" stroke="#1a1a1a" stroke-width="1"/>
<rect x="419.3" y="445" width="84.5" height="15.5" fill="#f0f0f0"/>
<g clip-path="url(#c35)">
<rect x="424.2" y="450.1" width="19" height="4.8" rx="2.4" fill="#0a0a0a" opacity="1" filter="url(#b1)"/>
<rect x="449.8" y="449.9" width="18.2" height="4.8" rx="2.4" fill="#0a0a0a" opacity="1" filter="url(#b1)"/>
<rect x="475.3" y="449.1" width="21" height="4.8" rx="2.4" fill="#0a0a0a" opacity="1" filter="url(#b1)"/>
</g>
<rect x="419.3" y="445" width="84.5" height="15.5" fill="none" stroke="#1a1a1a" stroke-width="1"/>
<text x="429.8" y="488.2" font-size="6.7" fill="#111" transform="rotate(-45 429.8 488.2)" stroke="#111" stroke-width="0.22">sgCDK2.1</text>
<text x="462.8" y="488.2" font-size="6.7" fill="#111" transform="rotate(-45 462.8 488.2)" stroke="#111" stroke-width="0.22">sgCDK2.2</text>
<text x="499" y="488.2" font-size="6.7" fill="#111" transform="rotate(-45 499 488.2)" stroke="#111" stroke-width="0.22">sgControl</text>
<circle cx="430.3" cy="506.9" r="15.9" fill="url(#g36)"/>
<circle cx="430.3" cy="506.9" r="15.3" fill="#fff" filter="url(#f37)"/>
<circle cx="430.3" cy="506.9" r="15.3" fill="#fff" filter="url(#f38)"/>
<circle cx="464.8" cy="506.9" r="15.9" fill="url(#g39)"/>
<circle cx="464.8" cy="506.9" r="15.3" fill="#fff" filter="url(#f40)"/>
<circle cx="464.8" cy="506.9" r="15.3" fill="#fff" filter="url(#f41)"/>
<circle cx="498.2" cy="506.9" r="15.9" fill="url(#g42)"/>
<circle cx="498.2" cy="506.9" r="15.3" fill="#fff" filter="url(#f43)"/>
<circle cx="498.2" cy="506.9" r="15.3" fill="#fff" filter="url(#f44)"/>
<text x="417.3" y="581" font-size="8" text-anchor="middle" fill="#111" transform="rotate(-90 417.3 581)" textLength="93" lengthAdjust="spacingAndGlyphs" stroke="#111" stroke-width="0.22">Percentage of cell viability</text>
<text x="427.4" y="581" font-size="8" text-anchor="middle" fill="#111" transform="rotate(-90 427.4 581)" textLength="63" lengthAdjust="spacingAndGlyphs" stroke="#111" stroke-width="0.22">relative to control</text>
<rect x="454.3" y="577.34" width="12.5" height="53.96" fill="#b17fc8" stroke="#111" stroke-width="0.9"/>
<rect x="473.3" y="574.05" width="13" height="57.25" fill="#b17fc8" stroke="#111" stroke-width="0.9"/>
<rect x="493" y="567.47" width="13.3" height="63.83" fill="#d9d9d9" stroke="#111" stroke-width="0.9"/>
<line x1="460.5" y1="578.99" x2="460.5" y2="575.37" stroke="#111" stroke-width="0.8"/>
<line x1="458.1" y1="578.99" x2="462.9" y2="578.99" stroke="#111" stroke-width="0.8"/>
<line x1="458.1" y1="575.37" x2="462.9" y2="575.37" stroke="#111" stroke-width="0.8"/>
<line x1="479.8" y1="575.7" x2="479.8" y2="572.41" stroke="#111" stroke-width="0.8"/>
<line x1="477.4" y1="575.7" x2="482.2" y2="575.7" stroke="#111" stroke-width="0.8"/>
<line x1="477.4" y1="572.41" x2="482.2" y2="572.41" stroke="#111" stroke-width="0.8"/>
<line x1="499.6" y1="569.78" x2="499.6" y2="565.17" stroke="#111" stroke-width="0.8"/>
<line x1="497.2" y1="569.78" x2="502" y2="569.78" stroke="#111" stroke-width="0.8"/>
<line x1="497.2" y1="565.17" x2="502" y2="565.17" stroke="#111" stroke-width="0.8"/>
<circle cx="460.5" cy="572.87" r="1.55" fill="#fff" stroke="#111" stroke-width="0.95"/>
<circle cx="456.8" cy="577.61" r="1.55" fill="#fff" stroke="#111" stroke-width="0.95"/>
<circle cx="463.6" cy="578.33" r="1.55" fill="#fff" stroke="#111" stroke-width="0.95"/>
<circle cx="457.4" cy="581.23" r="1.55" fill="#fff" stroke="#111" stroke-width="0.95"/>
<circle cx="479.7" cy="570.9" r="1.55" fill="#fff" stroke="#111" stroke-width="0.95"/>
<circle cx="476.6" cy="574.19" r="1.55" fill="#fff" stroke="#111" stroke-width="0.95"/>
<circle cx="483.4" cy="574.19" r="1.55" fill="#fff" stroke="#111" stroke-width="0.95"/>
<circle cx="480" cy="577.61" r="1.55" fill="#fff" stroke="#111" stroke-width="0.95"/>
<circle cx="502.9" cy="561.42" r="1.55" fill="#fff" stroke="#111" stroke-width="0.95"/>
<circle cx="496.8" cy="563.92" r="1.55" fill="#fff" stroke="#111" stroke-width="0.95"/>
<circle cx="503.1" cy="569.51" r="1.55" fill="#fff" stroke="#111" stroke-width="0.95"/>
<circle cx="496.8" cy="571.29" r="1.55" fill="#fff" stroke="#111" stroke-width="0.95"/>
<circle cx="499.9" cy="566.16" r="1.55" fill="#fff" stroke="#111" stroke-width="0.95"/>
<line x1="446.3" y1="532.1" x2="446.3" y2="631.8" stroke="#111" stroke-width="1"/>
<line x1="445.8" y1="631.3" x2="512.5" y2="631.3" stroke="#111" stroke-width="1"/>
<line x1="443.3" y1="631.3" x2="446.3" y2="631.3" stroke="#111" stroke-width="0.9"/>
<text x="442.7" y="633.9" font-size="7.1" text-anchor="end" fill="#111" stroke="#111" stroke-width="0.22">0</text>
<line x1="443.3" y1="598.4" x2="446.3" y2="598.4" stroke="#111" stroke-width="0.9"/>
<text x="442.7" y="601" font-size="7.1" text-anchor="end" fill="#111" stroke="#111" stroke-width="0.22">50</text>
<line x1="443.3" y1="565.5" x2="446.3" y2="565.5" stroke="#111" stroke-width="0.9"/>
<text x="442.7" y="568.1" font-size="7.1" text-anchor="end" fill="#111" stroke="#111" stroke-width="0.22">100</text>
<line x1="443.3" y1="532.6" x2="446.3" y2="532.6" stroke="#111" stroke-width="0.9"/>
<text x="442.7" y="535.2" font-size="7.1" text-anchor="end" fill="#111" stroke="#111" stroke-width="0.22">150</text>
<line x1="460.55" y1="631.3" x2="460.55" y2="635.1" stroke="#111" stroke-width="0.9"/>
<text x="461.85" y="642.2" font-size="7.2" text-anchor="end" fill="#111" transform="rotate(-45 461.85 642.2)" stroke="#111" stroke-width="0.22">sgCDK2.1</text>
<line x1="479.8" y1="631.3" x2="479.8" y2="635.1" stroke="#111" stroke-width="0.9"/>
<text x="481.1" y="642.2" font-size="7.2" text-anchor="end" fill="#111" transform="rotate(-45 481.1 642.2)" stroke="#111" stroke-width="0.22">sgCDK2.2</text>
<line x1="499.65" y1="631.3" x2="499.65" y2="635.1" stroke="#111" stroke-width="0.9"/>
<text x="499.45" y="643.7" font-size="7.2" text-anchor="end" fill="#111" transform="rotate(-45 499.45 643.7)" stroke="#111" stroke-width="0.22">sgControl</text>
<text x="460.8" y="564" font-size="6.6" text-anchor="middle" fill="#222" stroke="#222" stroke-width="0.22">ns</text>
<text x="480" y="564" font-size="6.6" text-anchor="middle" fill="#222" stroke="#222" stroke-width="0.22">ns</text></svg>
</body></html>
